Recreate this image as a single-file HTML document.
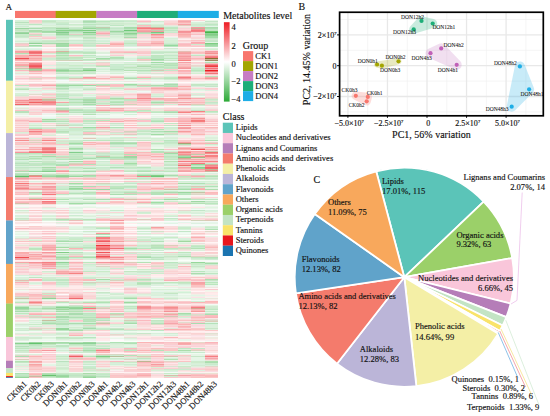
<!DOCTYPE html>
<html><head><meta charset="utf-8"><style>
html,body{margin:0;padding:0;background:#fff;width:550px;height:416px;overflow:hidden}
svg{display:block;font-family:"Liberation Serif",serif}
text{stroke:#111;stroke-width:0.15px}
</style></head><body>
<svg width="550" height="416" viewBox="0 0 550 416" fill="#111" font-family="Liberation Serif">
<rect width="550" height="416" fill="#fff"/>
<defs><filter id="hb" x="-1%" y="-1%" width="102%" height="102%"><feGaussianBlur stdDeviation="0.35 0.75"/></filter></defs>
<g shape-rendering="crispEdges" filter="url(#hb)">
<path fill="#d7f0dc" d="M15 20h14v1h-14zM191 22h14v1h-14zM42 23h14v1h-14zM56 25h13v1h-13zM124 26h13v1h-13zM164 26h14v1h-14zM96 38h14v1h-14zM96 40h14v1h-14zM69 41h14v1h-14zM69 42h14v1h-14zM56 48h13v1h-13zM124 58h13v1h-13zM164 59h14v1h-14zM164 62h14v1h-14zM56 63h13v1h-13zM151 63h13v1h-13zM124 65h13v1h-13zM191 67h14v1h-14zM42 68h14v1h-14zM69 76h14v1h-14zM191 86h14v1h-14zM83 87h13v1h-13zM191 89h14v1h-14zM191 95h14v1h-14zM151 105h13v1h-13zM191 109h14v1h-14zM83 113h13v1h-13zM164 114h14v1h-14zM69 132h14v1h-14zM29 138h13v1h-13zM96 138h14v1h-14zM110 145h14v1h-14zM110 151h14v1h-14zM96 163h14v1h-14zM15 166h14v1h-14zM151 168h13v1h-13zM56 169h13v1h-13zM137 169h14v1h-14zM151 173h13v1h-13zM124 182h13v1h-13zM124 188h13v1h-13zM205 210h13v1h-13zM191 213h14v1h-14zM15 215h14v1h-14zM15 216h14v1h-14zM164 220h14v1h-14zM83 226h13v1h-13zM83 228h13v1h-13zM178 238h13v1h-13zM56 239h13v1h-13zM178 239h13v1h-13zM151 240h13v1h-13zM69 245h14v1h-14zM69 250h14v1h-14zM83 252h13v1h-13zM178 253h13v1h-13zM56 255h13v1h-13zM83 266h13v1h-13zM96 268h14v1h-14zM164 268h14v1h-14zM205 271h13v1h-13zM15 275h14v1h-14zM29 275h13v1h-13zM15 277h14v1h-14zM96 280h14v1h-14zM124 282h13v1h-13zM29 283h13v1h-13zM124 283h13v1h-13zM178 284h13v1h-13zM124 285h13v1h-13zM178 289h13v1h-13zM151 292h13v1h-13zM151 295h13v1h-13zM164 295h14v1h-14zM15 314h14v1h-14zM29 322h13v1h-13zM69 322h14v1h-14zM205 324h13v1h-13zM56 327h13v1h-13zM151 333h13v1h-13zM164 335h14v1h-14zM110 347h14v1h-14zM15 349h14v1h-14zM56 355h13v1h-13zM124 357h13v1h-13zM110 359h14v1h-14zM137 359h14v1h-14zM110 363h14v1h-14zM191 364h14v1h-14zM15 365h14v1h-14zM205 365h13v1h-13z"/>
<path fill="#facdcd" d="M29 20h13v1h-13zM29 21h13v1h-13zM164 23h14v1h-14zM164 24h14v1h-14zM191 32h14v1h-14zM42 38h14v1h-14zM15 45h14v1h-14zM110 46h14v1h-14zM178 46h13v1h-13zM137 51h14v1h-14zM42 55h14v1h-14zM42 56h14v1h-14zM15 63h14v1h-14zM178 63h13v1h-13zM15 67h14v1h-14zM164 69h14v1h-14zM42 71h14v1h-14zM205 88h13v1h-13zM151 90h13v1h-13zM110 94h14v1h-14zM124 94h13v1h-13zM96 96h14v1h-14zM29 97h13v1h-13zM29 98h13v1h-13zM191 101h14v1h-14zM124 103h13v1h-13zM164 103h14v1h-14zM191 103h14v1h-14zM137 104h14v1h-14zM96 108h14v1h-14zM137 109h14v1h-14zM205 110h13v1h-13zM29 112h13v1h-13zM191 117h14v1h-14zM124 118h13v1h-13zM15 121h14v1h-14zM205 123h13v1h-13zM15 125h14v1h-14zM191 125h14v1h-14zM96 128h14v1h-14zM205 128h13v1h-13zM191 133h14v1h-14zM56 138h13v1h-13zM191 142h14v1h-14zM137 143h14v1h-14zM137 144h14v1h-14zM137 145h14v1h-14zM191 147h14v1h-14zM56 152h13v1h-13zM137 153h14v1h-14zM151 153h13v1h-13zM137 157h14v1h-14zM178 160h13v1h-13zM137 161h14v1h-14zM83 165h13v1h-13zM29 179h13v1h-13zM56 179h13v1h-13zM151 179h13v1h-13zM164 179h14v1h-14zM137 186h14v1h-14zM151 187h13v1h-13zM15 193h14v1h-14zM96 194h14v1h-14zM137 201h14v1h-14zM56 210h13v1h-13zM124 218h13v1h-13zM29 226h13v1h-13zM42 236h14v1h-14zM29 238h13v1h-13zM29 245h13v1h-13zM164 246h14v1h-14zM205 252h13v1h-13zM69 259h14v1h-14zM96 263h14v1h-14zM110 264h14v1h-14zM137 266h14v1h-14zM15 269h14v1h-14zM56 270h13v1h-13zM110 273h14v1h-14zM205 278h13v1h-13zM56 292h13v1h-13zM15 295h14v1h-14zM56 296h13v1h-13zM151 298h13v1h-13zM178 301h13v1h-13zM178 303h13v1h-13zM110 306h14v1h-14zM151 309h13v1h-13zM124 314h13v1h-13zM151 314h13v1h-13zM191 318h14v1h-14zM69 334h14v1h-14zM164 343h14v1h-14zM191 349h14v1h-14zM42 356h14v1h-14zM42 359h14v1h-14zM96 361h14v1h-14zM96 366h14v1h-14zM29 367h13v1h-13zM29 368h13v1h-13zM42 368h14v1h-14zM151 368h13v1h-13zM191 369h14v1h-14zM205 374h13v1h-13zM178 376h13v1h-13z"/>
<path fill="#c8ebcd" d="M42 20h14v1h-14zM124 21h13v1h-13zM56 23h13v1h-13zM15 24h14v1h-14zM205 25h13v1h-13zM42 29h14v1h-14zM164 32h14v1h-14zM15 34h14v1h-14zM42 42h14v1h-14zM69 43h14v1h-14zM151 53h13v1h-13zM69 59h14v1h-14zM110 64h14v1h-14zM110 66h14v1h-14zM110 67h14v1h-14zM110 68h14v1h-14zM191 68h14v1h-14zM191 69h14v1h-14zM191 71h14v1h-14zM137 84h14v1h-14zM56 87h13v1h-13zM69 95h14v1h-14zM83 97h13v1h-13zM69 101h14v1h-14zM151 101h13v1h-13zM69 104h14v1h-14zM69 111h14v1h-14zM137 111h14v1h-14zM124 112h13v1h-13zM205 112h13v1h-13zM29 127h13v1h-13zM69 128h14v1h-14zM56 129h13v1h-13zM69 129h14v1h-14zM137 130h14v1h-14zM137 133h14v1h-14zM137 134h14v1h-14zM69 141h14v1h-14zM164 141h14v1h-14zM124 144h13v1h-13zM83 152h13v1h-13zM110 153h14v1h-14zM164 154h14v1h-14zM29 157h13v1h-13zM42 157h14v1h-14zM83 157h13v1h-13zM96 158h14v1h-14zM164 158h14v1h-14zM29 159h13v1h-13zM15 162h14v1h-14zM205 163h13v1h-13zM42 165h14v1h-14zM96 165h14v1h-14zM110 165h14v1h-14zM96 167h14v1h-14zM124 168h13v1h-13zM83 170h13v1h-13zM151 174h13v1h-13zM205 183h13v1h-13zM69 184h14v1h-14zM56 188h13v1h-13zM164 191h14v1h-14zM83 194h13v1h-13zM69 198h14v1h-14zM56 201h13v1h-13zM110 210h14v1h-14zM178 227h13v1h-13zM205 227h13v1h-13zM69 238h14v1h-14zM83 238h13v1h-13zM137 240h14v1h-14zM56 243h13v1h-13zM83 245h13v1h-13zM137 245h14v1h-14zM124 247h13v1h-13zM191 247h14v1h-14zM56 250h13v1h-13zM178 254h13v1h-13zM137 259h14v1h-14zM151 271h13v1h-13zM110 279h14v1h-14zM56 284h13v1h-13zM56 310h13v1h-13zM83 310h13v1h-13zM205 311h13v1h-13zM178 315h13v1h-13zM56 318h13v1h-13zM42 321h14v1h-14zM151 321h13v1h-13zM83 324h13v1h-13zM96 328h14v1h-14zM56 338h13v1h-13zM29 346h13v1h-13zM96 346h14v1h-14zM83 347h13v1h-13zM178 352h13v1h-13zM191 352h14v1h-14zM110 358h14v1h-14zM83 364h13v1h-13zM205 364h13v1h-13zM83 366h13v1h-13zM83 367h13v1h-13zM164 369h14v1h-14zM178 369h13v1h-13zM96 375h14v1h-14z"/>
<path fill="#d2f0d7" d="M56 20h13v1h-13zM83 23h13v1h-13zM96 26h14v1h-14zM191 26h14v1h-14zM56 38h13v1h-13zM29 40h13v1h-13zM124 40h13v1h-13zM15 41h14v1h-14zM96 41h14v1h-14zM83 56h13v1h-13zM137 56h14v1h-14zM164 57h14v1h-14zM56 62h13v1h-13zM124 62h13v1h-13zM56 67h13v1h-13zM69 67h14v1h-14zM96 69h14v1h-14zM124 69h13v1h-13zM56 76h13v1h-13zM69 86h14v1h-14zM69 87h14v1h-14zM56 91h13v1h-13zM56 100h13v1h-13zM110 100h14v1h-14zM164 104h14v1h-14zM69 105h14v1h-14zM56 107h13v1h-13zM110 112h14v1h-14zM124 114h13v1h-13zM83 125h13v1h-13zM69 131h14v1h-14zM110 133h14v1h-14zM110 137h14v1h-14zM164 144h14v1h-14zM124 146h13v1h-13zM69 151h14v1h-14zM110 152h14v1h-14zM83 153h13v1h-13zM15 155h14v1h-14zM15 161h14v1h-14zM164 162h14v1h-14zM164 163h14v1h-14zM110 164h14v1h-14zM29 168h13v1h-13zM124 179h13v1h-13zM178 181h13v1h-13zM191 181h14v1h-14zM110 184h14v1h-14zM191 184h14v1h-14zM110 197h14v1h-14zM164 198h14v1h-14zM69 201h14v1h-14zM151 201h13v1h-13zM137 227h14v1h-14zM205 228h13v1h-13zM178 229h13v1h-13zM137 237h14v1h-14zM151 237h13v1h-13zM151 239h13v1h-13zM83 240h13v1h-13zM69 243h14v1h-14zM56 246h13v1h-13zM137 247h14v1h-14zM137 255h14v1h-14zM151 256h13v1h-13zM69 258h14v1h-14zM56 265h13v1h-13zM191 265h14v1h-14zM56 268h13v1h-13zM96 269h14v1h-14zM124 274h13v1h-13zM56 277h13v1h-13zM164 283h14v1h-14zM178 292h13v1h-13zM96 293h14v1h-14zM110 293h14v1h-14zM96 297h14v1h-14zM110 297h14v1h-14zM191 301h14v1h-14zM96 303h14v1h-14zM29 310h13v1h-13zM42 315h14v1h-14zM178 317h13v1h-13zM83 322h13v1h-13zM56 325h13v1h-13zM29 326h13v1h-13zM56 326h13v1h-13zM83 338h13v1h-13zM15 339h14v1h-14zM42 345h14v1h-14zM56 347h13v1h-13zM124 347h13v1h-13zM164 351h14v1h-14zM178 351h13v1h-13zM164 358h14v1h-14zM56 362h13v1h-13zM110 364h14v1h-14z"/>
<path fill="#e1f5e1" d="M69 20h14v1h-14zM29 25h13v1h-13zM42 26h14v1h-14zM110 38h14v1h-14zM15 40h14v1h-14zM205 42h13v1h-13zM15 48h14v1h-14zM124 49h13v1h-13zM83 50h13v1h-13zM15 72h14v1h-14zM124 76h13v1h-13zM124 79h13v1h-13zM110 83h14v1h-14zM124 83h13v1h-13zM205 83h13v1h-13zM29 89h13v1h-13zM110 89h14v1h-14zM83 94h13v1h-13zM56 116h13v1h-13zM137 123h14v1h-14zM29 124h13v1h-13zM69 137h14v1h-14zM124 139h13v1h-13zM205 139h13v1h-13zM205 145h13v1h-13zM83 169h13v1h-13zM205 182h13v1h-13zM205 188h13v1h-13zM164 190h14v1h-14zM205 207h13v1h-13zM191 211h14v1h-14zM110 213h14v1h-14zM178 213h13v1h-13zM83 215h13v1h-13zM69 216h14v1h-14zM69 228h14v1h-14zM69 233h14v1h-14zM56 234h13v1h-13zM15 237h14v1h-14zM137 243h14v1h-14zM151 249h13v1h-13zM191 249h14v1h-14zM137 258h14v1h-14zM191 268h14v1h-14zM124 269h13v1h-13zM205 269h13v1h-13zM137 270h14v1h-14zM205 272h13v1h-13zM96 275h14v1h-14zM83 276h13v1h-13zM56 286h13v1h-13zM178 291h13v1h-13zM137 295h14v1h-14zM191 298h14v1h-14zM42 299h14v1h-14zM124 299h13v1h-13zM124 305h13v1h-13zM205 305h13v1h-13zM205 310h13v1h-13zM110 320h14v1h-14zM110 325h14v1h-14zM124 325h13v1h-13zM15 326h14v1h-14zM69 326h14v1h-14zM96 327h14v1h-14zM124 327h13v1h-13zM42 338h14v1h-14zM69 339h14v1h-14zM124 345h13v1h-13zM124 363h13v1h-13zM56 366h13v1h-13zM15 367h14v1h-14zM96 368h14v1h-14zM56 370h13v1h-13zM56 371h13v1h-13zM56 372h13v1h-13z"/>
<path fill="#c3e6c8" d="M83 20h13v1h-13zM110 21h14v1h-14zM205 21h13v1h-13zM56 24h13v1h-13zM69 28h14v1h-14zM110 28h14v1h-14zM205 29h13v1h-13zM42 30h14v1h-14zM110 30h14v1h-14zM69 32h14v1h-14zM110 34h14v1h-14zM15 36h14v1h-14zM205 38h13v1h-13zM83 40h13v1h-13zM205 41h13v1h-13zM29 42h13v1h-13zM83 43h13v1h-13zM83 45h13v1h-13zM69 51h14v1h-14zM151 52h13v1h-13zM164 55h14v1h-14zM56 68h13v1h-13zM151 69h13v1h-13zM164 70h14v1h-14zM56 73h13v1h-13zM124 77h13v1h-13zM205 84h13v1h-13zM191 85h14v1h-14zM205 86h13v1h-13zM56 89h13v1h-13zM56 95h13v1h-13zM83 98h13v1h-13zM96 99h14v1h-14zM124 100h13v1h-13zM205 102h13v1h-13zM191 110h14v1h-14zM83 123h13v1h-13zM69 125h14v1h-14zM83 128h13v1h-13zM164 134h14v1h-14zM164 142h14v1h-14zM110 144h14v1h-14zM83 154h13v1h-13zM96 155h14v1h-14zM56 162h13v1h-13zM29 163h13v1h-13zM164 165h14v1h-14zM15 167h14v1h-14zM29 167h13v1h-13zM69 167h14v1h-14zM151 171h13v1h-13zM137 178h14v1h-14zM205 178h13v1h-13zM124 183h13v1h-13zM69 187h14v1h-14zM124 187h13v1h-13zM110 192h14v1h-14zM56 194h13v1h-13zM151 199h13v1h-13zM205 201h13v1h-13zM191 210h14v1h-14zM164 218h14v1h-14zM137 228h14v1h-14zM178 231h13v1h-13zM69 247h14v1h-14zM42 280h14v1h-14zM56 282h13v1h-13zM151 283h13v1h-13zM205 313h13v1h-13zM83 314h13v1h-13zM83 315h13v1h-13zM96 318h14v1h-14zM83 327h13v1h-13zM15 344h14v1h-14zM191 348h14v1h-14zM83 349h13v1h-13zM83 351h13v1h-13zM83 361h13v1h-13zM15 374h14v1h-14zM96 374h14v1h-14z"/>
<path fill="#dcf0dc" d="M96 20h14v1h-14zM69 21h14v1h-14zM69 22h14v1h-14zM124 22h13v1h-13zM205 22h13v1h-13zM96 25h14v1h-14zM124 25h13v1h-13zM15 27h14v1h-14zM110 35h14v1h-14zM69 37h14v1h-14zM110 37h14v1h-14zM56 39h13v1h-13zM83 39h13v1h-13zM205 48h13v1h-13zM83 49h13v1h-13zM96 52h14v1h-14zM96 53h14v1h-14zM164 53h14v1h-14zM110 60h14v1h-14zM69 63h14v1h-14zM124 63h13v1h-13zM69 64h14v1h-14zM83 64h13v1h-13zM96 71h14v1h-14zM124 72h13v1h-13zM164 76h14v1h-14zM56 83h13v1h-13zM151 84h13v1h-13zM124 87h13v1h-13zM56 90h13v1h-13zM69 90h14v1h-14zM83 90h13v1h-13zM69 93h14v1h-14zM191 93h14v1h-14zM83 95h13v1h-13zM151 95h13v1h-13zM69 96h14v1h-14zM191 108h14v1h-14zM69 114h14v1h-14zM151 130h13v1h-13zM137 132h14v1h-14zM96 135h14v1h-14zM124 135h13v1h-13zM151 135h13v1h-13zM137 137h14v1h-14zM164 137h14v1h-14zM205 137h13v1h-13zM205 138h13v1h-13zM96 139h14v1h-14zM110 139h14v1h-14zM151 139h13v1h-13zM110 141h14v1h-14zM164 146h14v1h-14zM110 149h14v1h-14zM29 155h13v1h-13zM42 160h14v1h-14zM29 162h13v1h-13zM96 162h14v1h-14zM42 166h14v1h-14zM151 167h13v1h-13zM69 169h14v1h-14zM151 169h13v1h-13zM69 170h14v1h-14zM29 174h13v1h-13zM191 174h14v1h-14zM137 182h14v1h-14zM178 182h13v1h-13zM96 185h14v1h-14zM110 185h14v1h-14zM178 185h13v1h-13zM205 187h13v1h-13zM110 190h14v1h-14zM69 191h14v1h-14zM178 191h13v1h-13zM56 197h13v1h-13zM56 202h13v1h-13zM178 211h13v1h-13zM205 211h13v1h-13zM191 212h14v1h-14zM96 213h14v1h-14zM42 215h14v1h-14zM191 215h14v1h-14zM83 216h13v1h-13zM96 217h14v1h-14zM42 220h14v1h-14zM56 222h13v1h-13zM178 226h13v1h-13zM69 229h14v1h-14zM83 229h13v1h-13zM56 236h13v1h-13zM137 236h14v1h-14zM83 239h13v1h-13zM83 243h13v1h-13zM178 243h13v1h-13zM137 244h14v1h-14zM124 250h13v1h-13zM137 250h14v1h-14zM191 250h14v1h-14zM56 253h13v1h-13zM164 253h14v1h-14zM178 257h13v1h-13zM164 258h14v1h-14zM83 259h13v1h-13zM178 262h13v1h-13zM96 267h14v1h-14zM83 269h13v1h-13zM96 272h14v1h-14zM124 272h13v1h-13zM124 273h13v1h-13zM56 275h13v1h-13zM15 278h14v1h-14zM56 278h13v1h-13zM151 280h13v1h-13zM29 282h13v1h-13zM151 284h13v1h-13zM83 285h13v1h-13zM137 285h14v1h-14zM164 285h14v1h-14zM42 292h14v1h-14zM151 293h13v1h-13zM137 294h14v1h-14zM151 294h13v1h-13zM96 295h14v1h-14zM110 296h14v1h-14zM164 297h14v1h-14zM178 298h13v1h-13zM15 299h14v1h-14zM96 299h14v1h-14zM15 301h14v1h-14zM69 301h14v1h-14zM29 306h13v1h-13zM29 307h13v1h-13zM42 318h14v1h-14zM42 319h14v1h-14zM124 319h13v1h-13zM205 325h13v1h-13zM205 326h13v1h-13zM205 327h13v1h-13zM69 328h14v1h-14zM42 329h14v1h-14zM205 329h13v1h-13zM110 330h14v1h-14zM15 333h14v1h-14zM29 334h13v1h-13zM42 334h14v1h-14zM83 334h13v1h-13zM42 337h14v1h-14zM124 338h13v1h-13zM56 339h13v1h-13zM124 344h13v1h-13zM110 345h14v1h-14zM69 346h14v1h-14zM110 346h14v1h-14zM96 347h14v1h-14zM178 349h13v1h-13zM15 354h14v1h-14zM29 354h13v1h-13zM164 354h14v1h-14zM83 355h13v1h-13zM96 359h14v1h-14zM83 363h13v1h-13zM15 364h14v1h-14zM178 364h13v1h-13zM124 365h13v1h-13zM191 366h14v1h-14zM83 371h13v1h-13zM96 371h14v1h-14z"/>
<path fill="#cdebd2" d="M110 20h14v1h-14zM137 24h14v1h-14zM83 25h13v1h-13zM191 25h14v1h-14zM15 26h14v1h-14zM110 27h14v1h-14zM110 29h14v1h-14zM56 36h13v1h-13zM69 40h14v1h-14zM83 41h13v1h-13zM124 42h13v1h-13zM164 43h14v1h-14zM124 44h13v1h-13zM124 45h13v1h-13zM83 51h13v1h-13zM164 51h14v1h-14zM56 54h13v1h-13zM96 56h14v1h-14zM137 57h14v1h-14zM42 58h14v1h-14zM110 59h14v1h-14zM83 65h13v1h-13zM110 65h14v1h-14zM69 69h14v1h-14zM110 70h14v1h-14zM83 72h13v1h-13zM164 83h14v1h-14zM56 93h13v1h-13zM151 96h13v1h-13zM56 97h13v1h-13zM69 98h14v1h-14zM56 99h13v1h-13zM69 100h14v1h-14zM96 100h14v1h-14zM56 103h13v1h-13zM110 103h14v1h-14zM205 103h13v1h-13zM83 105h13v1h-13zM83 118h13v1h-13zM151 118h13v1h-13zM69 124h14v1h-14zM110 125h14v1h-14zM56 127h13v1h-13zM164 127h14v1h-14zM42 128h14v1h-14zM56 130h13v1h-13zM151 132h13v1h-13zM110 146h14v1h-14zM69 147h14v1h-14zM96 154h14v1h-14zM15 156h14v1h-14zM42 159h14v1h-14zM96 159h14v1h-14zM96 161h14v1h-14zM124 161h13v1h-13zM56 163h13v1h-13zM191 166h14v1h-14zM83 167h13v1h-13zM69 168h14v1h-14zM96 168h14v1h-14zM110 168h14v1h-14zM137 168h14v1h-14zM29 170h13v1h-13zM137 177h14v1h-14zM56 186h13v1h-13zM56 187h13v1h-13zM178 187h13v1h-13zM110 189h14v1h-14zM151 191h13v1h-13zM69 192h14v1h-14zM137 212h14v1h-14zM69 215h14v1h-14zM15 219h14v1h-14zM42 219h14v1h-14zM137 231h14v1h-14zM69 237h14v1h-14zM83 246h13v1h-13zM137 246h14v1h-14zM164 249h14v1h-14zM151 250h13v1h-13zM137 252h14v1h-14zM124 253h13v1h-13zM151 258h13v1h-13zM191 258h14v1h-14zM205 259h13v1h-13zM164 263h14v1h-14zM83 264h13v1h-13zM205 264h13v1h-13zM110 268h14v1h-14zM137 272h14v1h-14zM83 277h13v1h-13zM83 278h13v1h-13zM15 279h14v1h-14zM56 283h13v1h-13zM96 298h14v1h-14zM110 298h14v1h-14zM96 306h14v1h-14zM29 315h13v1h-13zM96 319h14v1h-14zM56 320h13v1h-13zM69 324h14v1h-14zM83 329h13v1h-13zM15 330h14v1h-14zM124 330h13v1h-13zM124 333h13v1h-13zM15 342h14v1h-14zM110 343h14v1h-14zM15 347h14v1h-14zM29 347h13v1h-13zM110 355h14v1h-14zM124 364h13v1h-13z"/>
<path fill="#d2ebd2" d="M124 20h13v1h-13zM151 21h13v1h-13zM96 23h14v1h-14zM124 23h13v1h-13zM205 23h13v1h-13zM110 24h14v1h-14zM29 27h13v1h-13zM164 29h14v1h-14zM15 31h14v1h-14zM164 31h14v1h-14zM69 33h14v1h-14zM69 36h14v1h-14zM83 36h13v1h-13zM205 39h13v1h-13zM124 41h13v1h-13zM83 42h13v1h-13zM164 48h14v1h-14zM56 49h13v1h-13zM56 50h13v1h-13zM42 53h14v1h-14zM42 59h14v1h-14zM137 62h14v1h-14zM56 64h13v1h-13zM56 65h13v1h-13zM69 66h14v1h-14zM124 66h13v1h-13zM137 67h14v1h-14zM151 68h13v1h-13zM151 71h13v1h-13zM56 72h13v1h-13zM137 73h14v1h-14zM164 79h14v1h-14zM205 85h13v1h-13zM83 88h13v1h-13zM69 94h14v1h-14zM15 95h14v1h-14zM110 97h14v1h-14zM205 100h13v1h-13zM96 102h14v1h-14zM96 104h14v1h-14zM191 105h14v1h-14zM151 119h13v1h-13zM164 128h14v1h-14zM69 134h14v1h-14zM110 138h14v1h-14zM56 140h13v1h-13zM124 140h13v1h-13zM56 142h13v1h-13zM42 158h14v1h-14zM15 169h14v1h-14zM96 169h14v1h-14zM164 170h14v1h-14zM164 174h14v1h-14zM205 177h13v1h-13zM137 179h14v1h-14zM178 179h13v1h-13zM205 179h13v1h-13zM96 184h14v1h-14zM83 198h13v1h-13zM69 202h14v1h-14zM205 202h13v1h-13zM69 204h14v1h-14zM205 204h13v1h-13zM15 210h14v1h-14zM164 216h14v1h-14zM42 218h14v1h-14zM69 218h14v1h-14zM83 227h13v1h-13zM83 237h13v1h-13zM69 240h14v1h-14zM151 244h13v1h-13zM69 246h14v1h-14zM69 253h14v1h-14zM151 254h13v1h-13zM178 255h13v1h-13zM164 257h14v1h-14zM164 264h14v1h-14zM56 267h13v1h-13zM151 269h13v1h-13zM42 271h14v1h-14zM191 274h14v1h-14zM42 277h14v1h-14zM110 277h14v1h-14zM42 278h14v1h-14zM151 279h13v1h-13zM110 294h14v1h-14zM124 301h13v1h-13zM205 306h13v1h-13zM205 307h13v1h-13zM42 311h14v1h-14zM124 311h13v1h-13zM69 312h14v1h-14zM56 315h13v1h-13zM151 318h13v1h-13zM15 324h14v1h-14zM83 326h13v1h-13zM69 327h14v1h-14zM15 328h14v1h-14zM164 333h14v1h-14zM56 334h13v1h-13zM29 337h13v1h-13zM15 338h14v1h-14zM29 338h13v1h-13zM96 342h14v1h-14zM15 345h14v1h-14zM96 345h14v1h-14zM56 350h13v1h-13zM15 351h14v1h-14zM15 352h14v1h-14zM124 358h13v1h-13zM56 359h13v1h-13zM110 362h14v1h-14zM56 365h13v1h-13zM191 365h14v1h-14zM56 367h13v1h-13zM69 377h14v1h-14zM96 377h14v1h-14z"/>
<path fill="#fadcdc" d="M137 20h14v1h-14zM178 29h13v1h-13zM164 34h14v1h-14zM164 35h14v1h-14zM96 36h14v1h-14zM137 36h14v1h-14zM151 39h13v1h-13zM178 41h13v1h-13zM137 42h14v1h-14zM96 44h14v1h-14zM191 49h14v1h-14zM205 50h13v1h-13zM191 60h14v1h-14zM164 72h14v1h-14zM15 76h14v1h-14zM191 76h14v1h-14zM69 79h14v1h-14zM137 79h14v1h-14zM42 86h14v1h-14zM137 87h14v1h-14zM151 91h13v1h-13zM178 92h13v1h-13zM96 93h14v1h-14zM164 93h14v1h-14zM96 95h14v1h-14zM124 95h13v1h-13zM205 95h13v1h-13zM42 96h14v1h-14zM178 101h13v1h-13zM124 105h13v1h-13zM124 107h13v1h-13zM137 107h14v1h-14zM42 108h14v1h-14zM151 108h13v1h-13zM178 116h13v1h-13zM15 118h14v1h-14zM69 119h14v1h-14zM124 119h13v1h-13zM15 122h14v1h-14zM69 122h14v1h-14zM178 124h13v1h-13zM15 128h14v1h-14zM124 128h13v1h-13zM205 129h13v1h-13zM205 132h13v1h-13zM178 133h13v1h-13zM178 134h13v1h-13zM191 135h14v1h-14zM15 137h14v1h-14zM42 137h14v1h-14zM191 138h14v1h-14zM191 139h14v1h-14zM29 141h13v1h-13zM42 145h14v1h-14zM42 146h14v1h-14zM83 146h13v1h-13zM96 146h14v1h-14zM15 147h14v1h-14zM137 147h14v1h-14zM96 148h14v1h-14zM96 149h14v1h-14zM29 150h13v1h-13zM96 151h14v1h-14zM124 151h13v1h-13zM151 158h13v1h-13zM137 159h14v1h-14zM110 162h14v1h-14zM151 165h13v1h-13zM110 177h14v1h-14zM124 177h13v1h-13zM56 181h13v1h-13zM83 184h13v1h-13zM42 185h14v1h-14zM83 185h13v1h-13zM151 186h13v1h-13zM15 190h14v1h-14zM15 191h14v1h-14zM137 191h14v1h-14zM151 197h13v1h-13zM191 197h14v1h-14zM137 198h14v1h-14zM151 198h13v1h-13zM29 204h13v1h-13zM42 204h14v1h-14zM164 204h14v1h-14zM124 210h13v1h-13zM137 210h14v1h-14zM151 210h13v1h-13zM151 211h13v1h-13zM29 212h13v1h-13zM56 213h13v1h-13zM205 213h13v1h-13zM151 215h13v1h-13zM151 216h13v1h-13zM191 219h14v1h-14zM29 222h13v1h-13zM15 226h14v1h-14zM164 226h14v1h-14zM56 227h13v1h-13zM164 227h14v1h-14zM15 229h14v1h-14zM42 229h14v1h-14zM151 229h13v1h-13zM164 229h14v1h-14zM191 229h14v1h-14zM29 231h13v1h-13zM56 231h13v1h-13zM164 231h14v1h-14zM191 231h14v1h-14zM151 233h13v1h-13zM42 234h14v1h-14zM191 234h14v1h-14zM110 236h14v1h-14zM42 237h14v1h-14zM205 238h13v1h-13zM15 239h14v1h-14zM124 239h13v1h-13zM205 239h13v1h-13zM205 241h13v1h-13zM15 243h14v1h-14zM29 243h13v1h-13zM42 243h14v1h-14zM205 250h13v1h-13zM191 253h14v1h-14zM124 258h13v1h-13zM69 264h14v1h-14zM178 264h13v1h-13zM178 267h13v1h-13zM29 268h13v1h-13zM178 269h13v1h-13zM164 270h14v1h-14zM178 271h13v1h-13zM83 272h13v1h-13zM164 272h14v1h-14zM178 272h13v1h-13zM29 273h13v1h-13zM137 277h14v1h-14zM69 281h14v1h-14zM191 281h14v1h-14zM110 285h14v1h-14zM56 289h13v1h-13zM69 289h14v1h-14zM124 291h13v1h-13zM29 292h13v1h-13zM29 293h13v1h-13zM56 293h13v1h-13zM151 299h13v1h-13zM42 302h14v1h-14zM191 303h14v1h-14zM83 305h13v1h-13zM164 305h14v1h-14zM178 305h13v1h-13zM151 310h13v1h-13zM178 311h13v1h-13zM124 312h13v1h-13zM137 312h14v1h-14zM137 318h14v1h-14zM164 319h14v1h-14zM178 319h13v1h-13zM15 320h14v1h-14zM137 321h14v1h-14zM110 322h14v1h-14zM137 325h14v1h-14zM137 326h14v1h-14zM151 327h13v1h-13zM137 328h14v1h-14zM151 337h13v1h-13zM151 338h13v1h-13zM191 338h14v1h-14zM205 346h13v1h-13zM110 348h14v1h-14zM42 349h14v1h-14zM137 351h14v1h-14zM205 354h13v1h-13zM151 357h13v1h-13zM178 357h13v1h-13zM42 361h14v1h-14zM42 362h14v1h-14zM96 362h14v1h-14zM29 363h13v1h-13zM69 364h14v1h-14zM110 368h14v1h-14zM137 368h14v1h-14zM191 371h14v1h-14zM124 373h13v1h-13z"/>
<path fill="#fff0f0" d="M151 20h13v1h-13zM178 39h13v1h-13zM42 50h14v1h-14zM29 61h13v1h-13zM42 61h14v1h-14zM96 74h14v1h-14zM15 80h14v1h-14zM96 80h14v1h-14zM110 91h14v1h-14zM96 92h14v1h-14zM164 97h14v1h-14zM205 106h13v1h-13zM178 115h13v1h-13zM205 115h13v1h-13zM137 117h14v1h-14zM164 122h14v1h-14zM124 124h13v1h-13zM124 126h13v1h-13zM151 126h13v1h-13zM191 126h14v1h-14zM205 126h13v1h-13zM15 136h14v1h-14zM56 150h13v1h-13zM96 172h14v1h-14zM178 172h13v1h-13zM15 195h14v1h-14zM137 195h14v1h-14zM15 196h14v1h-14zM96 196h14v1h-14zM151 196h13v1h-13zM164 206h14v1h-14zM164 208h14v1h-14zM151 209h13v1h-13zM178 209h13v1h-13zM29 214h13v1h-13zM137 214h14v1h-14zM151 214h13v1h-13zM178 214h13v1h-13zM205 214h13v1h-13zM29 217h13v1h-13zM69 221h14v1h-14zM29 223h13v1h-13zM69 224h14v1h-14zM124 226h13v1h-13zM151 230h13v1h-13zM29 232h13v1h-13zM124 232h13v1h-13zM15 242h14v1h-14zM124 242h13v1h-13zM164 242h14v1h-14zM15 251h14v1h-14zM42 251h14v1h-14zM15 260h14v1h-14zM69 260h14v1h-14zM96 260h14v1h-14zM42 270h14v1h-14zM110 270h14v1h-14zM178 274h13v1h-13zM151 276h13v1h-13zM15 288h14v1h-14zM29 288h13v1h-13zM137 288h14v1h-14zM83 290h13v1h-13zM137 290h14v1h-14zM110 291h14v1h-14zM56 300h13v1h-13zM137 300h14v1h-14zM164 300h14v1h-14zM42 304h14v1h-14zM69 304h14v1h-14zM110 304h14v1h-14zM178 304h13v1h-13zM15 319h14v1h-14zM42 331h14v1h-14zM83 331h13v1h-13zM96 331h14v1h-14zM164 331h14v1h-14zM178 331h13v1h-13zM191 331h14v1h-14zM205 331h13v1h-13zM205 332h13v1h-13zM96 336h14v1h-14zM178 336h13v1h-13zM164 339h14v1h-14zM191 340h14v1h-14zM42 372h14v1h-14zM124 372h13v1h-13zM191 372h14v1h-14z"/>
<path fill="#fae1e6" d="M164 20h14v1h-14zM191 36h14v1h-14zM110 50h14v1h-14zM137 54h14v1h-14zM124 97h13v1h-13zM29 108h13v1h-13zM69 116h14v1h-14zM205 130h13v1h-13zM15 141h14v1h-14zM56 182h13v1h-13zM151 182h13v1h-13zM137 185h14v1h-14zM15 208h14v1h-14zM56 208h13v1h-13zM29 236h13v1h-13zM205 237h13v1h-13zM110 253h14v1h-14zM69 267h14v1h-14zM164 274h14v1h-14zM110 289h14v1h-14zM191 297h14v1h-14zM15 318h14v1h-14zM137 319h14v1h-14zM164 327h14v1h-14zM191 335h14v1h-14zM164 338h14v1h-14zM151 339h13v1h-13zM164 347h14v1h-14zM205 347h13v1h-13zM110 371h14v1h-14z"/>
<path fill="#fab9b9" d="M178 20h13v1h-13zM178 33h13v1h-13zM178 36h13v1h-13zM178 66h13v1h-13zM42 69h14v1h-14zM191 78h14v1h-14zM137 99h14v1h-14zM164 99h14v1h-14zM191 102h14v1h-14zM15 103h14v1h-14zM205 127h13v1h-13zM42 130h14v1h-14zM42 138h14v1h-14zM96 143h14v1h-14zM124 152h13v1h-13zM137 152h14v1h-14zM191 152h14v1h-14zM83 163h13v1h-13zM124 176h13v1h-13zM164 178h14v1h-14zM15 186h14v1h-14zM29 188h13v1h-13zM137 189h14v1h-14zM205 192h13v1h-13zM164 194h14v1h-14zM96 219h14v1h-14zM110 237h14v1h-14zM205 247h13v1h-13zM178 266h13v1h-13zM69 271h14v1h-14zM83 280h13v1h-13zM110 282h14v1h-14zM205 301h13v1h-13zM191 309h14v1h-14zM191 310h14v1h-14zM96 314h14v1h-14zM151 316h13v1h-13zM42 317h14v1h-14zM191 317h14v1h-14zM191 320h14v1h-14zM164 337h14v1h-14zM205 355h13v1h-13zM151 356h13v1h-13zM151 366h13v1h-13zM137 374h14v1h-14zM205 375h13v1h-13zM205 376h13v1h-13z"/>
<path fill="#fad7d7" d="M191 20h14v1h-14zM164 21h14v1h-14zM164 22h14v1h-14zM29 33h13v1h-13zM164 33h14v1h-14zM137 35h14v1h-14zM191 37h14v1h-14zM191 38h14v1h-14zM42 46h14v1h-14zM69 46h14v1h-14zM137 55h14v1h-14zM29 72h13v1h-13zM164 73h14v1h-14zM29 76h13v1h-13zM96 76h14v1h-14zM137 76h14v1h-14zM191 77h14v1h-14zM96 79h14v1h-14zM110 79h14v1h-14zM191 79h14v1h-14zM178 85h13v1h-13zM191 88h14v1h-14zM96 89h14v1h-14zM42 93h14v1h-14zM164 94h14v1h-14zM110 95h14v1h-14zM15 98h14v1h-14zM178 103h13v1h-13zM164 108h14v1h-14zM29 109h13v1h-13zM42 109h14v1h-14zM164 109h14v1h-14zM29 113h13v1h-13zM29 118h13v1h-13zM69 118h14v1h-14zM29 119h13v1h-13zM42 123h14v1h-14zM151 128h13v1h-13zM124 130h13v1h-13zM96 132h14v1h-14zM124 133h13v1h-13zM205 134h13v1h-13zM29 139h13v1h-13zM15 146h14v1h-14zM124 148h13v1h-13zM56 151h13v1h-13zM151 155h13v1h-13zM137 163h14v1h-14zM56 166h13v1h-13zM110 174h14v1h-14zM124 174h13v1h-13zM42 179h14v1h-14zM42 181h14v1h-14zM15 182h14v1h-14zM164 184h14v1h-14zM96 190h14v1h-14zM15 197h14v1h-14zM205 197h13v1h-13zM124 202h13v1h-13zM164 202h14v1h-14zM124 203h13v1h-13zM42 210h14v1h-14zM110 212h14v1h-14zM29 215h13v1h-13zM29 218h13v1h-13zM178 218h13v1h-13zM191 218h14v1h-14zM205 218h13v1h-13zM124 220h13v1h-13zM69 222h14v1h-14zM29 227h13v1h-13zM42 227h14v1h-14zM124 227h13v1h-13zM29 229h13v1h-13zM83 241h13v1h-13zM110 243h14v1h-14zM15 248h14v1h-14zM205 248h13v1h-13zM83 250h13v1h-13zM96 251h14v1h-14zM29 253h13v1h-13zM42 254h14v1h-14zM191 254h14v1h-14zM42 258h14v1h-14zM151 264h13v1h-13zM69 265h14v1h-14zM205 266h13v1h-13zM110 267h14v1h-14zM205 267h13v1h-13zM15 268h14v1h-14zM29 272h13v1h-13zM42 273h14v1h-14zM164 277h14v1h-14zM178 278h13v1h-13zM15 283h14v1h-14zM69 283h14v1h-14zM110 283h14v1h-14zM83 289h13v1h-13zM69 293h14v1h-14zM83 295h13v1h-13zM83 297h13v1h-13zM137 297h14v1h-14zM29 299h13v1h-13zM69 299h14v1h-14zM151 301h13v1h-13zM151 302h13v1h-13zM110 303h14v1h-14zM137 303h14v1h-14zM191 305h14v1h-14zM110 308h14v1h-14zM178 309h13v1h-13zM124 315h13v1h-13zM164 318h14v1h-14zM164 325h14v1h-14zM178 328h13v1h-13zM191 330h14v1h-14zM83 333h13v1h-13zM178 333h13v1h-13zM191 334h14v1h-14zM178 338h13v1h-13zM137 343h14v1h-14zM110 349h14v1h-14zM110 351h14v1h-14zM124 352h13v1h-13zM124 354h13v1h-13zM29 355h13v1h-13zM151 355h13v1h-13zM83 357h13v1h-13zM42 358h14v1h-14zM178 358h13v1h-13zM29 359h13v1h-13zM178 359h13v1h-13zM164 364h14v1h-14zM42 367h14v1h-14zM205 367h13v1h-13zM42 369h14v1h-14zM29 370h13v1h-13zM69 370h14v1h-14zM42 371h14v1h-14zM69 371h14v1h-14zM151 375h13v1h-13zM137 377h14v1h-14z"/>
<path fill="#e6f5e6" d="M205 20h13v1h-13zM137 23h14v1h-14zM151 23h13v1h-13zM69 26h14v1h-14zM110 26h14v1h-14zM42 33h14v1h-14zM15 38h14v1h-14zM69 39h14v1h-14zM96 39h14v1h-14zM110 39h14v1h-14zM110 40h14v1h-14zM15 42h14v1h-14zM29 44h13v1h-13zM151 50h13v1h-13zM164 50h14v1h-14zM83 54h13v1h-13zM151 54h13v1h-13zM124 57h13v1h-13zM83 58h13v1h-13zM205 61h13v1h-13zM110 63h14v1h-14zM96 67h14v1h-14zM96 70h14v1h-14zM164 74h14v1h-14zM69 81h14v1h-14zM110 81h14v1h-14zM164 81h14v1h-14zM137 83h14v1h-14zM191 83h14v1h-14zM83 86h13v1h-13zM69 89h14v1h-14zM15 90h14v1h-14zM191 90h14v1h-14zM29 91h13v1h-13zM69 91h14v1h-14zM15 107h14v1h-14zM69 107h14v1h-14zM191 107h14v1h-14zM83 108h13v1h-13zM15 113h14v1h-14zM69 113h14v1h-14zM110 113h14v1h-14zM164 113h14v1h-14zM15 114h14v1h-14zM151 114h13v1h-13zM83 116h13v1h-13zM151 116h13v1h-13zM83 117h13v1h-13zM137 124h14v1h-14zM29 126h13v1h-13zM96 130h14v1h-14zM56 135h13v1h-13zM83 135h13v1h-13zM110 135h14v1h-14zM137 135h14v1h-14zM178 135h13v1h-13zM205 135h13v1h-13zM69 136h14v1h-14zM205 136h13v1h-13zM56 137h13v1h-13zM96 137h14v1h-14zM56 139h13v1h-13zM137 139h14v1h-14zM151 145h13v1h-13zM56 146h13v1h-13zM151 146h13v1h-13zM164 150h14v1h-14zM29 160h13v1h-13zM164 160h14v1h-14zM96 166h14v1h-14zM15 172h14v1h-14zM69 173h14v1h-14zM83 173h13v1h-13zM124 173h13v1h-13zM124 184h13v1h-13zM69 185h14v1h-14zM29 190h13v1h-13zM29 191h13v1h-13zM205 198h13v1h-13zM69 200h14v1h-14zM164 200h14v1h-14zM15 207h14v1h-14zM83 207h13v1h-13zM151 207h13v1h-13zM69 208h14v1h-14zM191 208h14v1h-14zM15 211h14v1h-14zM69 211h14v1h-14zM15 217h14v1h-14zM83 223h13v1h-13zM137 223h14v1h-14zM205 223h13v1h-13zM69 226h14v1h-14zM137 226h14v1h-14zM191 226h14v1h-14zM15 234h14v1h-14zM151 234h13v1h-13zM69 236h14v1h-14zM205 236h13v1h-13zM29 239h13v1h-13zM151 242h13v1h-13zM178 242h13v1h-13zM151 243h13v1h-13zM29 250h13v1h-13zM124 268h13v1h-13zM191 269h14v1h-14zM205 270h13v1h-13zM83 275h13v1h-13zM110 275h14v1h-14zM29 276h13v1h-13zM96 276h14v1h-14zM110 276h14v1h-14zM137 276h14v1h-14zM96 278h14v1h-14zM83 281h13v1h-13zM29 284h13v1h-13zM151 287h13v1h-13zM164 287h14v1h-14zM178 288h13v1h-13zM96 289h14v1h-14zM151 290h13v1h-13zM164 291h14v1h-14zM178 293h13v1h-13zM124 294h13v1h-13zM110 295h14v1h-14zM178 295h13v1h-13zM96 296h14v1h-14zM151 296h13v1h-13zM164 296h14v1h-14zM178 297h13v1h-13zM191 299h14v1h-14zM56 303h13v1h-13zM42 310h14v1h-14zM56 312h13v1h-13zM205 312h13v1h-13zM29 321h13v1h-13zM15 323h14v1h-14zM29 323h13v1h-13zM29 325h13v1h-13zM124 332h13v1h-13zM151 334h13v1h-13zM56 335h13v1h-13zM56 336h13v1h-13zM69 336h14v1h-14zM56 340h13v1h-13zM191 354h14v1h-14zM191 355h14v1h-14zM110 357h14v1h-14zM164 357h14v1h-14zM191 357h14v1h-14zM191 358h14v1h-14zM191 359h14v1h-14zM15 360h14v1h-14zM56 360h13v1h-13zM15 363h14v1h-14zM42 364h14v1h-14zM110 365h14v1h-14zM178 365h13v1h-13z"/>
<path fill="#d7f0d7" d="M15 21h14v1h-14zM56 21h13v1h-13zM110 22h14v1h-14zM15 23h14v1h-14zM191 23h14v1h-14zM151 24h13v1h-13zM42 25h14v1h-14zM69 25h14v1h-14zM56 26h13v1h-13zM42 34h14v1h-14zM110 36h14v1h-14zM164 38h14v1h-14zM164 40h14v1h-14zM164 41h14v1h-14zM164 42h14v1h-14zM15 49h14v1h-14zM164 54h14v1h-14zM110 56h14v1h-14zM124 60h13v1h-13zM69 62h14v1h-14zM83 62h13v1h-13zM56 66h13v1h-13zM83 66h13v1h-13zM110 71h14v1h-14zM69 72h14v1h-14zM110 73h14v1h-14zM124 86h13v1h-13zM110 87h14v1h-14zM29 88h13v1h-13zM15 93h14v1h-14zM15 94h14v1h-14zM151 94h13v1h-13zM56 118h13v1h-13zM83 122h13v1h-13zM56 128h13v1h-13zM110 128h14v1h-14zM164 129h14v1h-14zM83 130h13v1h-13zM15 132h14v1h-14zM56 133h13v1h-13zM69 133h14v1h-14zM151 133h13v1h-13zM42 135h14v1h-14zM124 138h13v1h-13zM137 138h14v1h-14zM164 138h14v1h-14zM151 142h13v1h-13zM151 144h13v1h-13zM164 145h14v1h-14zM69 146h14v1h-14zM110 155h14v1h-14zM83 156h13v1h-13zM83 159h13v1h-13zM69 162h14v1h-14zM124 166h13v1h-13zM29 169h13v1h-13zM164 169h14v1h-14zM29 173h13v1h-13zM137 173h14v1h-14zM191 179h14v1h-14zM205 181h13v1h-13zM124 185h13v1h-13zM205 185h13v1h-13zM151 190h13v1h-13zM83 191h13v1h-13zM191 191h14v1h-14zM69 194h14v1h-14zM83 197h13v1h-13zM83 201h13v1h-13zM178 201h13v1h-13zM56 203h13v1h-13zM151 204h13v1h-13zM69 212h14v1h-14zM178 212h13v1h-13zM164 215h14v1h-14zM42 216h14v1h-14zM164 219h14v1h-14zM137 229h14v1h-14zM56 233h13v1h-13zM137 233h14v1h-14zM56 237h13v1h-13zM69 244h14v1h-14zM83 244h13v1h-13zM29 247h13v1h-13zM83 253h13v1h-13zM83 254h13v1h-13zM164 255h14v1h-14zM83 258h13v1h-13zM164 259h14v1h-14zM191 259h14v1h-14zM83 265h13v1h-13zM164 266h14v1h-14zM124 267h13v1h-13zM191 267h14v1h-14zM137 274h14v1h-14zM56 281h13v1h-13zM96 281h14v1h-14zM124 284h13v1h-13zM151 289h13v1h-13zM164 289h14v1h-14zM164 292h14v1h-14zM124 296h13v1h-13zM83 301h13v1h-13zM110 316h14v1h-14zM69 319h14v1h-14zM29 320h13v1h-13zM110 324h14v1h-14zM15 329h14v1h-14zM29 330h13v1h-13zM137 330h14v1h-14zM29 333h13v1h-13zM124 334h13v1h-13zM110 344h14v1h-14zM83 346h13v1h-13zM42 347h14v1h-14zM56 357h13v1h-13zM56 363h13v1h-13zM191 363h14v1h-14zM56 364h13v1h-13zM151 367h13v1h-13zM151 370h13v1h-13zM164 370h14v1h-14z"/>
<path fill="#c3e6c3" d="M42 21h14v1h-14zM96 24h14v1h-14zM42 27h14v1h-14zM15 30h14v1h-14zM29 32h13v1h-13zM56 40h13v1h-13zM96 43h14v1h-14zM164 52h14v1h-14zM191 55h14v1h-14zM69 58h14v1h-14zM137 65h14v1h-14zM164 68h14v1h-14zM164 77h14v1h-14zM69 84h14v1h-14zM191 84h14v1h-14zM83 89h13v1h-13zM96 103h14v1h-14zM96 112h14v1h-14zM164 123h14v1h-14zM164 125h14v1h-14zM137 131h14v1h-14zM69 142h14v1h-14zM15 157h14v1h-14zM69 157h14v1h-14zM164 157h14v1h-14zM69 158h14v1h-14zM164 159h14v1h-14zM29 164h13v1h-13zM124 171h13v1h-13zM42 174h14v1h-14zM205 175h13v1h-13zM69 219h14v1h-14zM56 249h13v1h-13zM83 256h13v1h-13zM83 271h13v1h-13zM124 271h13v1h-13zM164 293h14v1h-14zM124 297h13v1h-13zM124 308h13v1h-13zM151 320h13v1h-13zM42 344h14v1h-14zM15 350h14v1h-14zM56 356h13v1h-13zM15 362h14v1h-14z"/>
<path fill="#aadcaf" d="M83 21h13v1h-13zM205 27h13v1h-13zM29 28h13v1h-13zM96 28h14v1h-14zM124 28h13v1h-13zM56 31h13v1h-13zM42 32h14v1h-14zM124 37h13v1h-13zM42 43h14v1h-14zM83 68h13v1h-13zM56 69h13v1h-13zM164 84h14v1h-14zM151 85h13v1h-13zM83 100h13v1h-13zM164 112h14v1h-14zM110 143h14v1h-14zM83 158h13v1h-13zM56 165h13v1h-13zM83 171h13v1h-13zM42 175h14v1h-14zM164 175h14v1h-14zM69 186h14v1h-14zM164 192h14v1h-14zM110 194h14v1h-14zM96 199h14v1h-14zM83 203h13v1h-13zM69 241h14v1h-14zM178 256h13v1h-13zM83 257h13v1h-13zM191 273h14v1h-14zM15 311h14v1h-14zM69 313h14v1h-14zM69 314h14v1h-14zM205 314h13v1h-13zM56 316h13v1h-13zM42 323h14v1h-14zM69 323h14v1h-14zM191 323h14v1h-14zM15 356h14v1h-14zM205 362h13v1h-13zM42 374h14v1h-14z"/>
<path fill="#b9e6be" d="M96 21h14v1h-14zM83 24h13v1h-13zM56 29h13v1h-13zM96 29h14v1h-14zM137 33h14v1h-14zM56 35h13v1h-13zM164 44h14v1h-14zM164 46h14v1h-14zM83 52h13v1h-13zM83 59h13v1h-13zM96 66h14v1h-14zM151 67h13v1h-13zM191 70h14v1h-14zM164 78h14v1h-14zM56 84h13v1h-13zM110 101h14v1h-14zM124 111h13v1h-13zM205 111h13v1h-13zM96 120h14v1h-14zM29 128h13v1h-13zM164 140h14v1h-14zM151 151h13v1h-13zM164 156h14v1h-14zM56 159h13v1h-13zM29 161h13v1h-13zM42 163h14v1h-14zM42 164h14v1h-14zM124 164h13v1h-13zM137 167h14v1h-14zM69 175h14v1h-14zM124 186h13v1h-13zM178 194h13v1h-13zM205 203h13v1h-13zM96 228h14v1h-14zM96 236h14v1h-14zM83 247h13v1h-13zM29 248h13v1h-13zM137 248h14v1h-14zM151 248h13v1h-13zM69 252h14v1h-14zM56 256h13v1h-13zM164 262h14v1h-14zM56 264h13v1h-13zM191 271h14v1h-14zM137 282h14v1h-14zM205 282h13v1h-13zM137 284h14v1h-14zM205 284h13v1h-13zM56 302h13v1h-13zM69 306h14v1h-14zM83 313h13v1h-13zM178 314h13v1h-13zM83 320h13v1h-13zM83 337h13v1h-13zM124 342h13v1h-13zM83 344h13v1h-13zM83 348h13v1h-13zM124 350h13v1h-13zM56 374h13v1h-13z"/>
<path fill="#fabec3" d="M137 21h14v1h-14zM191 34h14v1h-14zM137 44h14v1h-14zM69 55h14v1h-14zM29 84h13v1h-13zM29 85h13v1h-13zM151 87h13v1h-13zM178 96h13v1h-13zM137 102h14v1h-14zM124 110h13v1h-13zM205 121h13v1h-13zM124 127h13v1h-13zM151 127h13v1h-13zM137 142h14v1h-14zM124 155h13v1h-13zM110 170h14v1h-14zM137 183h14v1h-14zM15 192h14v1h-14zM42 193h14v1h-14zM110 198h14v1h-14zM42 257h14v1h-14zM110 263h14v1h-14zM191 280h14v1h-14zM178 302h13v1h-13zM151 313h13v1h-13zM96 316h14v1h-14zM164 322h14v1h-14zM178 327h13v1h-13zM69 357h14v1h-14zM205 357h13v1h-13zM69 359h14v1h-14zM137 373h14v1h-14zM124 376h13v1h-13z"/>
<path fill="#f5a5aa" d="M178 21h13v1h-13zM151 43h13v1h-13zM205 52h13v1h-13zM205 67h13v1h-13zM42 85h14v1h-14zM164 88h14v1h-14zM178 102h13v1h-13zM178 163h13v1h-13zM29 254h13v1h-13zM15 258h14v1h-14zM15 259h14v1h-14zM42 266h14v1h-14zM164 323h14v1h-14zM69 355h14v1h-14zM205 358h13v1h-13zM178 375h13v1h-13z"/>
<path fill="#f0faf0" d="M191 21h14v1h-14zM15 47h14v1h-14zM56 47h13v1h-13zM96 61h14v1h-14zM110 61h14v1h-14zM96 72h14v1h-14zM124 73h13v1h-13zM110 74h14v1h-14zM124 74h13v1h-13zM83 80h13v1h-13zM124 80h13v1h-13zM56 81h13v1h-13zM69 92h14v1h-14zM191 96h14v1h-14zM124 113h13v1h-13zM151 113h13v1h-13zM110 114h14v1h-14zM56 115h13v1h-13zM96 116h14v1h-14zM110 116h14v1h-14zM124 116h13v1h-13zM110 117h14v1h-14zM110 126h14v1h-14zM164 126h14v1h-14zM83 136h13v1h-13zM96 136h14v1h-14zM110 136h14v1h-14zM124 136h13v1h-13zM124 141h13v1h-13zM83 150h13v1h-13zM110 150h14v1h-14zM96 160h14v1h-14zM137 165h14v1h-14zM29 172h13v1h-13zM42 172h14v1h-14zM205 172h13v1h-13zM205 180h13v1h-13zM69 195h14v1h-14zM110 195h14v1h-14zM124 195h13v1h-13zM178 195h13v1h-13zM56 196h13v1h-13zM69 196h14v1h-14zM110 196h14v1h-14zM164 196h14v1h-14zM178 196h13v1h-13zM178 197h13v1h-13zM191 200h14v1h-14zM191 204h14v1h-14zM69 206h14v1h-14zM110 206h14v1h-14zM56 207h13v1h-13zM42 209h14v1h-14zM69 209h14v1h-14zM110 209h14v1h-14zM69 214h14v1h-14zM83 214h13v1h-13zM110 214h14v1h-14zM191 214h14v1h-14zM69 217h14v1h-14zM124 222h13v1h-13zM151 222h13v1h-13zM15 232h14v1h-14zM69 232h14v1h-14zM178 233h13v1h-13zM96 235h14v1h-14zM178 236h13v1h-13zM164 250h14v1h-14zM69 251h14v1h-14zM178 251h13v1h-13zM178 259h13v1h-13zM137 260h14v1h-14zM151 260h13v1h-13zM83 261h13v1h-13zM164 261h14v1h-14zM178 261h13v1h-13zM124 270h13v1h-13zM191 275h14v1h-14zM151 288h13v1h-13zM164 288h14v1h-14zM15 290h14v1h-14zM83 291h13v1h-13zM96 291h14v1h-14zM178 294h13v1h-13zM83 300h13v1h-13zM56 304h13v1h-13zM124 304h13v1h-13zM151 319h13v1h-13zM15 322h14v1h-14zM15 331h14v1h-14zM56 331h13v1h-13zM124 331h13v1h-13zM137 331h14v1h-14zM15 332h14v1h-14zM137 332h14v1h-14zM151 332h13v1h-13zM42 336h14v1h-14zM110 337h14v1h-14zM42 339h14v1h-14zM29 340h13v1h-13zM124 340h13v1h-13zM191 353h14v1h-14zM69 372h14v1h-14zM83 372h13v1h-13z"/>
<path fill="#b9e1be" d="M15 22h14v1h-14zM110 32h14v1h-14zM110 69h14v1h-14zM124 85h13v1h-13zM164 85h14v1h-14zM15 111h14v1h-14zM164 111h14v1h-14zM69 112h14v1h-14zM124 142h13v1h-13zM42 154h14v1h-14zM15 163h14v1h-14zM151 247h13v1h-13zM151 257h13v1h-13zM96 320h14v1h-14zM83 345h13v1h-13zM56 361h13v1h-13zM96 376h14v1h-14z"/>
<path fill="#fad2d2" d="M29 22h13v1h-13zM191 33h14v1h-14zM137 34h14v1h-14zM151 38h13v1h-13zM178 40h13v1h-13zM110 42h14v1h-14zM15 50h14v1h-14zM191 51h14v1h-14zM191 57h14v1h-14zM191 62h14v1h-14zM96 63h14v1h-14zM96 64h14v1h-14zM164 71h14v1h-14zM42 78h14v1h-14zM29 79h13v1h-13zM15 84h14v1h-14zM29 86h13v1h-13zM178 87h13v1h-13zM42 88h14v1h-14zM124 88h13v1h-13zM164 90h14v1h-14zM151 92h13v1h-13zM178 93h13v1h-13zM29 96h13v1h-13zM15 97h14v1h-14zM205 97h13v1h-13zM191 99h14v1h-14zM164 101h14v1h-14zM29 105h13v1h-13zM137 105h14v1h-14zM205 105h13v1h-13zM178 108h13v1h-13zM178 110h13v1h-13zM42 111h14v1h-14zM110 111h14v1h-14zM42 112h14v1h-14zM29 114h13v1h-13zM15 119h14v1h-14zM110 120h14v1h-14zM205 120h13v1h-13zM15 123h14v1h-14zM124 123h13v1h-13zM96 125h14v1h-14zM137 128h14v1h-14zM178 129h13v1h-13zM15 130h14v1h-14zM96 134h14v1h-14zM124 137h13v1h-13zM15 139h14v1h-14zM29 143h13v1h-13zM191 144h14v1h-14zM137 146h14v1h-14zM124 147h13v1h-13zM205 148h13v1h-13zM56 149h13v1h-13zM205 150h13v1h-13zM56 153h13v1h-13zM205 154h13v1h-13zM137 158h14v1h-14zM110 161h14v1h-14zM96 177h14v1h-14zM83 181h13v1h-13zM29 184h13v1h-13zM29 187h13v1h-13zM110 203h14v1h-14zM56 212h13v1h-13zM178 216h13v1h-13zM96 218h14v1h-14zM29 219h13v1h-13zM151 220h13v1h-13zM42 228h14v1h-14zM56 228h13v1h-13zM164 228h14v1h-14zM124 238h13v1h-13zM191 238h14v1h-14zM42 240h14v1h-14zM42 244h14v1h-14zM205 245h13v1h-13zM137 249h14v1h-14zM205 249h13v1h-13zM205 253h13v1h-13zM124 257h13v1h-13zM96 259h14v1h-14zM124 259h13v1h-13zM15 264h14v1h-14zM137 264h14v1h-14zM29 266h13v1h-13zM205 268h13v1h-13zM164 271h14v1h-14zM164 273h14v1h-14zM69 274h14v1h-14zM69 277h14v1h-14zM205 277h13v1h-13zM69 278h14v1h-14zM124 278h13v1h-13zM178 280h13v1h-13zM15 284h14v1h-14zM69 284h14v1h-14zM191 287h14v1h-14zM29 289h13v1h-13zM83 292h13v1h-13zM83 296h13v1h-13zM29 297h13v1h-13zM83 298h13v1h-13zM164 301h14v1h-14zM42 303h14v1h-14zM151 303h13v1h-13zM205 303h13v1h-13zM137 305h14v1h-14zM178 306h13v1h-13zM96 311h14v1h-14zM191 313h14v1h-14zM15 315h14v1h-14zM137 315h14v1h-14zM15 317h14v1h-14zM191 319h14v1h-14zM69 321h14v1h-14zM110 323h14v1h-14zM137 324h14v1h-14zM178 325h13v1h-13zM164 326h14v1h-14zM96 330h14v1h-14zM178 330h13v1h-13zM191 333h14v1h-14zM96 335h14v1h-14zM137 344h14v1h-14zM191 344h14v1h-14zM205 344h13v1h-13zM137 345h14v1h-14zM137 346h14v1h-14zM164 346h14v1h-14zM42 348h14v1h-14zM137 348h14v1h-14zM137 349h14v1h-14zM110 350h14v1h-14zM205 350h13v1h-13zM29 351h13v1h-13zM151 351h13v1h-13zM69 354h14v1h-14zM29 357h13v1h-13zM29 358h13v1h-13zM164 362h14v1h-14zM151 363h13v1h-13zM96 364h14v1h-14zM69 366h14v1h-14zM137 366h14v1h-14zM124 367h13v1h-13zM69 368h14v1h-14zM205 368h13v1h-13zM69 369h14v1h-14zM124 369h13v1h-13zM42 370h14v1h-14zM124 370h13v1h-13zM137 370h14v1h-14zM205 370h13v1h-13zM137 371h14v1h-14zM110 373h14v1h-14zM110 374h14v1h-14zM178 374h13v1h-13z"/>
<path fill="#cdebcd" d="M42 22h14v1h-14zM56 22h13v1h-13zM96 22h14v1h-14zM110 23h14v1h-14zM69 24h14v1h-14zM191 24h14v1h-14zM151 25h13v1h-13zM151 26h13v1h-13zM69 27h14v1h-14zM83 29h13v1h-13zM110 33h14v1h-14zM15 37h14v1h-14zM42 40h14v1h-14zM29 41h13v1h-13zM56 42h13v1h-13zM83 44h13v1h-13zM191 44h14v1h-14zM83 46h13v1h-13zM151 51h13v1h-13zM69 53h14v1h-14zM151 65h13v1h-13zM124 68h13v1h-13zM15 69h14v1h-14zM137 71h14v1h-14zM69 77h14v1h-14zM110 88h14v1h-14zM69 103h14v1h-14zM83 109h13v1h-13zM96 118h14v1h-14zM56 120h13v1h-13zM29 125h13v1h-13zM69 130h14v1h-14zM69 140h14v1h-14zM56 143h13v1h-13zM205 144h13v1h-13zM29 154h13v1h-13zM164 155h14v1h-14zM15 158h14v1h-14zM56 158h13v1h-13zM124 162h13v1h-13zM15 164h14v1h-14zM15 168h14v1h-14zM124 170h13v1h-13zM69 174h14v1h-14zM164 176h14v1h-14zM178 178h13v1h-13zM69 181h14v1h-14zM110 183h14v1h-14zM110 191h14v1h-14zM164 201h14v1h-14zM83 202h13v1h-13zM191 202h14v1h-14zM83 220h13v1h-13zM83 231h13v1h-13zM96 231h14v1h-14zM56 238h13v1h-13zM137 239h14v1h-14zM151 252h13v1h-13zM137 254h14v1h-14zM205 262h13v1h-13zM164 265h14v1h-14zM164 267h14v1h-14zM137 269h14v1h-14zM151 273h13v1h-13zM164 298h14v1h-14zM69 302h14v1h-14zM124 303h13v1h-13zM124 307h13v1h-13zM205 308h13v1h-13zM29 309h13v1h-13zM69 315h14v1h-14zM69 318h14v1h-14zM124 321h13v1h-13zM151 322h13v1h-13zM42 324h14v1h-14zM56 333h13v1h-13zM15 337h14v1h-14zM69 345h14v1h-14zM69 352h14v1h-14zM83 352h13v1h-13zM164 352h14v1h-14zM56 358h13v1h-13zM191 361h14v1h-14zM83 362h13v1h-13zM191 362h14v1h-14zM205 363h13v1h-13zM56 368h13v1h-13zM83 370h13v1h-13zM164 376h14v1h-14z"/>
<path fill="#b4e1b9" d="M83 22h13v1h-13zM69 31h14v1h-14zM56 58h13v1h-13zM110 58h14v1h-14zM151 60h13v1h-13zM151 64h13v1h-13zM164 65h14v1h-14zM137 70h14v1h-14zM83 101h13v1h-13zM110 104h14v1h-14zM56 108h13v1h-13zM69 110h14v1h-14zM56 121h13v1h-13zM110 127h14v1h-14zM151 129h13v1h-13zM69 149h14v1h-14zM15 153h14v1h-14zM15 159h14v1h-14zM83 164h13v1h-13zM110 167h14v1h-14zM42 169h14v1h-14zM15 174h14v1h-14zM110 188h14v1h-14zM124 192h13v1h-13zM69 193h14v1h-14zM151 193h13v1h-13zM124 194h13v1h-13zM151 194h13v1h-13zM83 199h13v1h-13zM151 241h13v1h-13zM137 256h14v1h-14zM205 257h13v1h-13zM56 259h13v1h-13zM69 309h14v1h-14zM83 317h13v1h-13zM56 319h13v1h-13zM56 323h13v1h-13zM151 323h13v1h-13zM205 323h13v1h-13zM56 324h13v1h-13zM110 329h14v1h-14zM69 342h14v1h-14zM29 344h13v1h-13zM15 346h14v1h-14zM96 348h14v1h-14zM151 350h13v1h-13zM124 355h13v1h-13zM15 376h14v1h-14z"/>
<path fill="#ebe1d7" d="M137 22h14v1h-14zM29 23h13v1h-13zM42 44h14v1h-14zM110 53h14v1h-14zM15 73h14v1h-14zM83 76h13v1h-13zM15 96h14v1h-14zM191 97h14v1h-14zM137 108h14v1h-14zM178 109h13v1h-13zM42 212h14v1h-14zM124 246h13v1h-13zM205 255h13v1h-13zM137 293h14v1h-14zM42 330h14v1h-14zM69 332h14v1h-14zM110 335h14v1h-14zM124 337h13v1h-13z"/>
<path fill="#e1f5e6" d="M151 22h13v1h-13zM205 26h13v1h-13zM29 48h13v1h-13zM164 49h14v1h-14zM137 63h14v1h-14zM110 72h14v1h-14zM56 75h13v1h-13zM96 81h14v1h-14zM83 83h13v1h-13zM42 90h14v1h-14zM56 92h13v1h-13zM164 116h14v1h-14zM42 118h14v1h-14zM42 122h14v1h-14zM137 122h14v1h-14zM56 126h13v1h-13zM164 135h14v1h-14zM69 138h14v1h-14zM164 139h14v1h-14zM110 148h14v1h-14zM151 150h13v1h-13zM164 166h14v1h-14zM83 172h13v1h-13zM56 184h13v1h-13zM178 184h13v1h-13zM69 207h14v1h-14zM42 208h14v1h-14zM83 218h13v1h-13zM164 223h14v1h-14zM69 227h14v1h-14zM96 229h14v1h-14zM69 231h14v1h-14zM164 233h14v1h-14zM15 236h14v1h-14zM151 236h13v1h-13zM110 255h14v1h-14zM56 261h13v1h-13zM178 285h13v1h-13zM191 295h14v1h-14zM151 297h13v1h-13zM124 310h13v1h-13zM110 321h14v1h-14zM205 322h13v1h-13zM164 334h14v1h-14zM151 335h13v1h-13zM15 336h14v1h-14zM69 340h14v1h-14zM56 344h13v1h-13zM124 346h13v1h-13zM56 349h13v1h-13zM56 351h13v1h-13zM191 360h14v1h-14zM42 365h14v1h-14zM164 374h14v1h-14z"/>
<path fill="#fab4b4" d="M178 22h13v1h-13zM137 29h14v1h-14zM178 35h13v1h-13zM110 43h14v1h-14zM205 55h13v1h-13zM29 59h13v1h-13zM15 60h14v1h-14zM110 77h14v1h-14zM137 77h14v1h-14zM96 78h14v1h-14zM178 89h13v1h-13zM137 97h14v1h-14zM124 98h13v1h-13zM164 98h14v1h-14zM191 119h14v1h-14zM124 120h13v1h-13zM29 133h13v1h-13zM191 134h14v1h-14zM83 142h13v1h-13zM42 143h14v1h-14zM191 143h14v1h-14zM205 143h13v1h-13zM83 144h13v1h-13zM29 147h13v1h-13zM178 149h13v1h-13zM191 153h14v1h-14zM137 155h14v1h-14zM205 158h13v1h-13zM83 161h13v1h-13zM178 168h13v1h-13zM110 176h14v1h-14zM15 181h14v1h-14zM29 183h13v1h-13zM42 188h14v1h-14zM191 188h14v1h-14zM137 199h14v1h-14zM110 223h14v1h-14zM42 248h14v1h-14zM69 248h14v1h-14zM15 256h14v1h-14zM29 263h13v1h-13zM191 302h14v1h-14zM83 306h13v1h-13zM42 314h14v1h-14zM178 324h13v1h-13zM178 326h13v1h-13zM178 329h13v1h-13zM69 335h14v1h-14zM137 342h14v1h-14zM178 342h13v1h-13zM29 350h13v1h-13zM137 350h14v1h-14zM96 352h14v1h-14zM29 356h13v1h-13zM29 365h13v1h-13zM29 374h13v1h-13z"/>
<path fill="#ebf5eb" d="M69 23h14v1h-14zM29 26h13v1h-13zM15 39h14v1h-14zM124 39h13v1h-13zM42 54h14v1h-14zM69 54h14v1h-14zM96 55h14v1h-14zM124 56h13v1h-13zM151 61h13v1h-13zM83 67h13v1h-13zM124 71h13v1h-13zM151 74h13v1h-13zM124 75h13v1h-13zM164 75h14v1h-14zM137 80h14v1h-14zM164 80h14v1h-14zM151 81h13v1h-13zM15 91h14v1h-14zM29 92h13v1h-13zM124 92h13v1h-13zM42 114h14v1h-14zM151 117h13v1h-13zM83 124h13v1h-13zM69 126h14v1h-14zM137 136h14v1h-14zM164 136h14v1h-14zM178 136h13v1h-13zM151 137h13v1h-13zM83 151h13v1h-13zM56 160h13v1h-13zM69 172h14v1h-14zM137 172h14v1h-14zM164 173h14v1h-14zM83 190h13v1h-13zM96 200h14v1h-14zM205 206h13v1h-13zM96 207h14v1h-14zM205 208h13v1h-13zM205 212h13v1h-13zM83 217h13v1h-13zM191 222h14v1h-14zM178 234h13v1h-13zM56 242h13v1h-13zM69 242h14v1h-14zM151 253h13v1h-13zM83 255h13v1h-13zM178 258h13v1h-13zM56 260h13v1h-13zM191 270h14v1h-14zM42 276h14v1h-14zM151 281h13v1h-13zM205 285h13v1h-13zM124 286h13v1h-13zM178 286h13v1h-13zM205 286h13v1h-13zM96 294h14v1h-14zM178 296h13v1h-13zM15 300h14v1h-14zM96 300h14v1h-14zM124 300h13v1h-13zM96 304h14v1h-14zM96 305h14v1h-14zM124 324h13v1h-13zM110 327h14v1h-14zM83 336h13v1h-13zM110 338h14v1h-14zM83 339h13v1h-13zM124 339h13v1h-13zM178 339h13v1h-13zM178 340h13v1h-13zM164 360h14v1h-14z"/>
<path fill="#fac8c8" d="M178 23h13v1h-13zM178 30h13v1h-13zM29 36h13v1h-13zM178 37h13v1h-13zM69 44h14v1h-14zM110 45h14v1h-14zM96 46h14v1h-14zM191 46h14v1h-14zM42 51h14v1h-14zM110 51h14v1h-14zM124 51h13v1h-13zM137 53h14v1h-14zM205 54h13v1h-13zM191 59h14v1h-14zM205 74h13v1h-13zM110 76h14v1h-14zM42 77h14v1h-14zM205 79h13v1h-13zM124 89h13v1h-13zM42 94h14v1h-14zM164 96h14v1h-14zM42 97h14v1h-14zM96 97h14v1h-14zM178 99h13v1h-13zM124 121h13v1h-13zM191 123h14v1h-14zM205 125h13v1h-13zM15 127h14v1h-14zM137 127h14v1h-14zM15 131h14v1h-14zM191 131h14v1h-14zM42 139h14v1h-14zM178 140h13v1h-13zM178 141h13v1h-13zM15 143h14v1h-14zM29 144h13v1h-13zM56 144h13v1h-13zM96 144h14v1h-14zM137 149h14v1h-14zM42 153h14v1h-14zM56 154h13v1h-13zM137 154h14v1h-14zM191 155h14v1h-14zM205 159h13v1h-13zM205 162h13v1h-13zM56 167h13v1h-13zM178 169h13v1h-13zM96 171h14v1h-14zM96 176h14v1h-14zM83 179h13v1h-13zM96 179h14v1h-14zM124 181h13v1h-13zM164 183h14v1h-14zM42 184h14v1h-14zM29 186h13v1h-13zM83 188h13v1h-13zM137 188h14v1h-14zM42 190h14v1h-14zM56 192h13v1h-13zM42 197h14v1h-14zM96 203h14v1h-14zM29 210h13v1h-13zM178 215h13v1h-13zM151 218h13v1h-13zM110 219h14v1h-14zM124 219h13v1h-13zM29 220h13v1h-13zM69 223h14v1h-14zM110 233h14v1h-14zM191 233h14v1h-14zM110 240h14v1h-14zM42 241h14v1h-14zM124 241h13v1h-13zM191 241h14v1h-14zM205 246h13v1h-13zM164 247h14v1h-14zM96 253h14v1h-14zM110 254h14v1h-14zM110 256h14v1h-14zM124 256h13v1h-13zM151 262h13v1h-13zM69 263h14v1h-14zM15 266h14v1h-14zM178 273h13v1h-13zM191 277h14v1h-14zM164 279h14v1h-14zM191 279h14v1h-14zM69 280h14v1h-14zM124 289h13v1h-13zM15 293h14v1h-14zM69 294h14v1h-14zM83 303h13v1h-13zM151 306h13v1h-13zM110 307h14v1h-14zM178 307h13v1h-13zM83 309h13v1h-13zM137 310h14v1h-14zM137 311h14v1h-14zM151 311h13v1h-13zM151 315h13v1h-13zM178 323h13v1h-13zM96 324h14v1h-14zM191 328h14v1h-14zM137 329h14v1h-14zM205 330h13v1h-13zM191 343h14v1h-14zM164 348h14v1h-14zM164 349h14v1h-14zM29 352h13v1h-13zM137 352h14v1h-14zM178 355h13v1h-13zM69 361h14v1h-14zM137 363h14v1h-14zM137 364h14v1h-14zM137 369h14v1h-14zM205 369h13v1h-13zM110 376h14v1h-14zM191 376h14v1h-14zM110 377h14v1h-14zM124 377h13v1h-13zM205 377h13v1h-13z"/>
<path fill="#bee6c3" d="M29 24h13v1h-13zM205 24h13v1h-13zM110 25h14v1h-14zM83 26h13v1h-13zM164 27h14v1h-14zM42 28h14v1h-14zM124 29h13v1h-13zM164 30h14v1h-14zM83 31h13v1h-13zM69 35h14v1h-14zM29 46h13v1h-13zM83 55h13v1h-13zM151 56h13v1h-13zM56 57h13v1h-13zM151 57h13v1h-13zM151 58h13v1h-13zM56 59h13v1h-13zM164 67h14v1h-14zM69 68h14v1h-14zM56 78h13v1h-13zM15 85h14v1h-14zM137 86h14v1h-14zM56 96h13v1h-13zM56 105h13v1h-13zM69 109h14v1h-14zM83 110h13v1h-13zM83 111h13v1h-13zM151 112h13v1h-13zM83 120h13v1h-13zM151 120h13v1h-13zM83 121h13v1h-13zM83 131h13v1h-13zM56 132h13v1h-13zM83 140h13v1h-13zM110 140h14v1h-14zM69 144h14v1h-14zM69 154h14v1h-14zM56 156h13v1h-13zM69 156h14v1h-14zM110 158h14v1h-14zM15 165h14v1h-14zM29 165h13v1h-13zM191 165h14v1h-14zM164 168h14v1h-14zM137 170h14v1h-14zM15 173h14v1h-14zM137 174h14v1h-14zM110 186h14v1h-14zM178 186h13v1h-13zM178 188h13v1h-13zM56 189h13v1h-13zM137 192h14v1h-14zM29 193h13v1h-13zM83 193h13v1h-13zM178 193h13v1h-13zM178 198h13v1h-13zM191 199h14v1h-14zM205 199h13v1h-13zM151 203h13v1h-13zM56 240h13v1h-13zM191 246h14v1h-14zM205 258h13v1h-13zM151 259h13v1h-13zM56 263h13v1h-13zM205 273h13v1h-13zM29 277h13v1h-13zM56 279h13v1h-13zM56 280h13v1h-13zM15 306h14v1h-14zM124 306h13v1h-13zM42 307h14v1h-14zM29 308h13v1h-13zM205 309h13v1h-13zM29 311h13v1h-13zM56 321h13v1h-13zM124 322h13v1h-13zM69 329h14v1h-14zM56 330h13v1h-13zM151 330h13v1h-13zM96 343h14v1h-14zM69 344h14v1h-14zM29 345h13v1h-13zM56 345h13v1h-13zM56 346h13v1h-13zM178 348h13v1h-13zM96 355h14v1h-14zM137 358h14v1h-14zM15 375h14v1h-14zM69 375h14v1h-14z"/>
<path fill="#dcf0e1" d="M42 24h14v1h-14zM15 25h14v1h-14zM29 29h13v1h-13zM42 35h14v1h-14zM29 39h13v1h-13zM164 39h14v1h-14zM124 46h13v1h-13zM29 49h13v1h-13zM96 57h14v1h-14zM124 59h13v1h-13zM42 65h14v1h-14zM96 68h14v1h-14zM137 72h14v1h-14zM56 79h13v1h-13zM69 88h14v1h-14zM205 90h13v1h-13zM83 107h13v1h-13zM56 113h13v1h-13zM96 114h14v1h-14zM151 122h13v1h-13zM29 123h13v1h-13zM69 123h14v1h-14zM69 135h14v1h-14zM124 145h13v1h-13zM83 149h13v1h-13zM15 160h14v1h-14zM124 160h13v1h-13zM56 161h13v1h-13zM83 166h13v1h-13zM110 166h14v1h-14zM205 173h13v1h-13zM29 181h13v1h-13zM191 182h14v1h-14zM191 185h14v1h-14zM69 190h14v1h-14zM124 190h13v1h-13zM69 197h14v1h-14zM69 199h14v1h-14zM69 210h14v1h-14zM69 213h14v1h-14zM191 223h14v1h-14zM69 234h14v1h-14zM164 234h14v1h-14zM164 238h14v1h-14zM137 242h14v1h-14zM56 244h13v1h-13zM151 255h13v1h-13zM83 268h13v1h-13zM83 270h13v1h-13zM137 273h14v1h-14zM96 274h14v1h-14zM205 274h13v1h-13zM205 281h13v1h-13zM56 285h13v1h-13zM151 285h13v1h-13zM96 288h14v1h-14zM164 294h14v1h-14zM124 309h13v1h-13zM15 325h14v1h-14zM69 325h14v1h-14zM110 326h14v1h-14zM110 333h14v1h-14zM83 335h13v1h-13zM56 348h13v1h-13zM69 351h14v1h-14zM56 354h13v1h-13zM178 362h13v1h-13zM178 363h13v1h-13zM191 370h14v1h-14zM164 371h14v1h-14z"/>
<path fill="#d2f0d2" d="M124 24h13v1h-13zM205 49h13v1h-13zM164 56h14v1h-14zM137 69h14v1h-14zM191 73h14v1h-14zM151 138h13v1h-13zM151 140h13v1h-13zM164 151h14v1h-14zM96 164h14v1h-14zM110 193h14v1h-14zM56 198h13v1h-13zM96 201h14v1h-14zM137 213h14v1h-14zM205 226h13v1h-13zM29 240h13v1h-13zM205 283h13v1h-13zM83 284h13v1h-13zM137 355h14v1h-14zM56 369h13v1h-13z"/>
<path fill="#f5a0a5" d="M178 24h13v1h-13zM178 58h13v1h-13zM178 62h13v1h-13zM56 111h13v1h-13zM96 127h14v1h-14zM178 167h13v1h-13zM178 171h13v1h-13zM15 178h14v1h-14zM42 187h14v1h-14zM42 192h14v1h-14zM191 282h14v1h-14z"/>
<path fill="#fabebe" d="M137 25h14v1h-14zM151 41h13v1h-13zM151 42h13v1h-13zM137 43h14v1h-14zM151 44h13v1h-13zM69 45h14v1h-14zM96 45h14v1h-14zM178 45h13v1h-13zM42 52h14v1h-14zM110 52h14v1h-14zM191 52h14v1h-14zM29 54h13v1h-13zM29 56h13v1h-13zM29 57h13v1h-13zM15 62h14v1h-14zM29 62h13v1h-13zM29 73h13v1h-13zM178 73h13v1h-13zM110 85h14v1h-14zM164 87h14v1h-14zM96 98h14v1h-14zM137 112h14v1h-14zM178 119h13v1h-13zM96 121h14v1h-14zM164 121h14v1h-14zM124 125h13v1h-13zM42 129h14v1h-14zM29 130h13v1h-13zM178 132h13v1h-13zM191 140h14v1h-14zM42 142h14v1h-14zM124 153h13v1h-13zM151 154h13v1h-13zM151 159h13v1h-13zM191 170h14v1h-14zM178 175h13v1h-13zM83 178h13v1h-13zM124 178h13v1h-13zM151 178h13v1h-13zM151 181h13v1h-13zM96 186h14v1h-14zM56 193h13v1h-13zM205 193h13v1h-13zM15 194h14v1h-14zM29 201h13v1h-13zM110 202h14v1h-14zM178 219h13v1h-13zM96 220h14v1h-14zM110 222h14v1h-14zM110 226h14v1h-14zM151 228h13v1h-13zM110 239h14v1h-14zM96 244h14v1h-14zM124 245h13v1h-13zM42 250h14v1h-14zM29 252h13v1h-13zM42 253h14v1h-14zM29 255h13v1h-13zM29 259h13v1h-13zM124 264h13v1h-13zM69 268h14v1h-14zM83 279h13v1h-13zM124 279h13v1h-13zM69 282h14v1h-14zM29 295h13v1h-13zM42 295h14v1h-14zM29 298h13v1h-13zM137 298h14v1h-14zM205 302h13v1h-13zM164 310h14v1h-14zM29 313h13v1h-13zM137 313h14v1h-14zM205 315h13v1h-13zM164 321h14v1h-14zM151 348h13v1h-13zM96 349h14v1h-14zM96 351h14v1h-14zM83 358h13v1h-13zM151 361h13v1h-13zM137 365h14v1h-14zM151 365h13v1h-13zM29 366h13v1h-13zM29 373h13v1h-13z"/>
<path fill="#ebe6dc" d="M164 25h14v1h-14zM178 27h13v1h-13zM137 46h14v1h-14zM42 87h14v1h-14zM151 93h13v1h-13zM110 107h14v1h-14zM69 108h14v1h-14zM164 130h14v1h-14zM42 134h14v1h-14zM83 148h13v1h-13zM137 164h14v1h-14zM151 166h13v1h-13zM56 185h13v1h-13zM164 210h14v1h-14zM137 211h14v1h-14zM96 212h14v1h-14zM96 223h14v1h-14zM137 253h14v1h-14zM83 263h13v1h-13zM15 267h14v1h-14zM124 281h13v1h-13zM137 281h14v1h-14zM15 289h14v1h-14zM137 296h14v1h-14zM205 298h13v1h-13zM15 334h14v1h-14zM137 334h14v1h-14zM205 334h13v1h-13zM96 344h14v1h-14zM205 360h13v1h-13z"/>
<path fill="#e1cdbe" d="M178 25h13v1h-13zM29 375h13v1h-13z"/>
<path fill="#e1d7c8" d="M137 26h14v1h-14zM96 31h14v1h-14zM205 142h13v1h-13zM151 170h13v1h-13zM56 218h13v1h-13zM205 231h13v1h-13zM83 325h13v1h-13zM15 355h14v1h-14zM205 366h13v1h-13z"/>
<path fill="#fae6e6" d="M178 26h13v1h-13zM191 35h14v1h-14zM178 38h13v1h-13zM178 42h13v1h-13zM96 48h14v1h-14zM96 49h14v1h-14zM178 50h13v1h-13zM191 50h14v1h-14zM42 66h14v1h-14zM151 72h13v1h-13zM96 75h14v1h-14zM42 81h14v1h-14zM29 83h13v1h-13zM96 83h14v1h-14zM191 87h14v1h-14zM164 91h14v1h-14zM178 91h13v1h-13zM110 92h14v1h-14zM164 92h14v1h-14zM205 107h13v1h-13zM191 113h14v1h-14zM191 116h14v1h-14zM110 122h14v1h-14zM15 126h14v1h-14zM178 126h13v1h-13zM205 133h13v1h-13zM96 141h14v1h-14zM96 145h14v1h-14zM205 146h13v1h-13zM96 147h14v1h-14zM15 148h14v1h-14zM15 150h14v1h-14zM151 162h13v1h-13zM83 182h13v1h-13zM164 185h14v1h-14zM110 204h14v1h-14zM29 207h13v1h-13zM124 211h13v1h-13zM29 213h13v1h-13zM124 213h13v1h-13zM15 222h14v1h-14zM96 222h14v1h-14zM15 223h14v1h-14zM124 229h13v1h-13zM178 237h13v1h-13zM42 239h14v1h-14zM164 244h14v1h-14zM42 260h14v1h-14zM69 261h14v1h-14zM96 265h14v1h-14zM29 271h13v1h-13zM110 274h14v1h-14zM178 275h13v1h-13zM15 285h14v1h-14zM69 285h14v1h-14zM110 286h14v1h-14zM137 289h14v1h-14zM69 290h14v1h-14zM15 292h14v1h-14zM164 304h14v1h-14zM96 310h14v1h-14zM178 310h13v1h-13zM178 318h13v1h-13zM205 318h13v1h-13zM178 321h13v1h-13zM137 327h14v1h-14zM191 327h14v1h-14zM96 332h14v1h-14zM178 334h13v1h-13zM191 339h14v1h-14zM164 340h14v1h-14zM151 346h13v1h-13zM205 352h13v1h-13z"/>
<path fill="#c8e6c8" d="M56 27h13v1h-13zM15 29h14v1h-14zM29 35h13v1h-13zM83 35h13v1h-13zM124 36h13v1h-13zM83 38h13v1h-13zM205 40h13v1h-13zM42 41h14v1h-14zM56 41h13v1h-13zM83 60h13v1h-13zM164 60h14v1h-14zM137 68h14v1h-14zM83 71h13v1h-13zM151 78h13v1h-13zM151 86h13v1h-13zM205 99h13v1h-13zM83 103h13v1h-13zM151 103h13v1h-13zM42 120h14v1h-14zM56 123h13v1h-13zM110 123h14v1h-14zM137 140h14v1h-14zM96 153h14v1h-14zM15 154h14v1h-14zM42 161h14v1h-14zM42 162h14v1h-14zM164 164h14v1h-14zM124 167h13v1h-13zM164 167h14v1h-14zM42 168h14v1h-14zM191 187h14v1h-14zM15 218h14v1h-14zM56 220h13v1h-13zM96 227h14v1h-14zM83 248h13v1h-13zM164 256h14v1h-14zM178 263h13v1h-13zM191 266h14v1h-14zM137 271h14v1h-14zM137 280h14v1h-14zM205 280h13v1h-13zM151 282h13v1h-13zM83 283h13v1h-13zM178 283h13v1h-13zM96 292h14v1h-14zM42 306h14v1h-14zM42 309h14v1h-14zM69 310h14v1h-14zM69 316h14v1h-14zM83 318h13v1h-13zM56 322h13v1h-13zM110 328h14v1h-14zM205 328h13v1h-13zM96 329h14v1h-14zM137 333h14v1h-14zM69 338h14v1h-14zM42 346h14v1h-14zM29 348h13v1h-13zM191 356h14v1h-14zM96 358h14v1h-14zM83 368h13v1h-13zM56 373h13v1h-13zM69 374h14v1h-14zM83 374h13v1h-13zM69 376h14v1h-14zM42 377h14v1h-14z"/>
<path fill="#b4e1b4" d="M83 27h13v1h-13zM69 29h14v1h-14zM15 53h14v1h-14zM124 70h13v1h-13zM69 71h14v1h-14zM69 102h14v1h-14zM83 114h13v1h-13zM178 144h13v1h-13zM151 149h13v1h-13zM124 154h13v1h-13zM29 156h13v1h-13zM29 158h13v1h-13zM164 161h14v1h-14zM83 168h13v1h-13zM83 176h13v1h-13zM205 176h13v1h-13zM151 192h13v1h-13zM178 199h13v1h-13zM191 203h14v1h-14zM191 248h14v1h-14zM137 262h14v1h-14zM137 283h14v1h-14zM83 302h13v1h-13zM69 311h14v1h-14zM164 359h14v1h-14zM15 361h14v1h-14zM42 373h14v1h-14z"/>
<path fill="#c3cdaf" d="M96 27h14v1h-14z"/>
<path fill="#a5dcaa" d="M124 27h13v1h-13zM56 33h13v1h-13zM124 34h13v1h-13zM56 44h13v1h-13zM56 46h13v1h-13zM83 69h13v1h-13zM69 70h14v1h-14zM56 71h13v1h-13zM151 102h13v1h-13zM83 104h13v1h-13zM42 121h14v1h-14zM164 131h14v1h-14zM42 156h14v1h-14zM178 156h13v1h-13zM96 157h14v1h-14zM69 161h14v1h-14zM15 175h14v1h-14zM83 175h13v1h-13zM69 189h14v1h-14zM178 189h13v1h-13zM56 241h13v1h-13zM124 248h13v1h-13zM137 257h14v1h-14zM205 263h13v1h-13zM124 298h13v1h-13zM56 311h13v1h-13zM178 313h13v1h-13zM56 317h13v1h-13zM83 323h13v1h-13zM124 323h13v1h-13zM83 328h13v1h-13zM56 342h13v1h-13zM83 350h13v1h-13zM83 376h13v1h-13z"/>
<path fill="#f59196" d="M137 27h14v1h-14zM178 31h13v1h-13zM15 100h14v1h-14zM42 103h14v1h-14zM178 125h13v1h-13zM42 202h14v1h-14zM29 262h13v1h-13zM110 262h14v1h-14zM42 264h14v1h-14zM137 306h14v1h-14zM164 311h14v1h-14z"/>
<path fill="#cdb9a0" d="M151 27h13v1h-13zM205 164h13v1h-13z"/>
<path fill="#f59ba0" d="M191 27h14v1h-14zM137 31h14v1h-14zM205 51h13v1h-13zM178 56h13v1h-13zM83 77h13v1h-13zM178 78h13v1h-13zM178 128h13v1h-13zM15 185h14v1h-14zM42 186h14v1h-14zM96 255h14v1h-14zM42 256h14v1h-14zM151 364h13v1h-13z"/>
<path fill="#9bd7a0" d="M15 28h14v1h-14zM110 31h14v1h-14zM56 34h13v1h-13zM56 43h13v1h-13zM205 44h13v1h-13zM29 69h13v1h-13zM69 85h14v1h-14zM42 176h14v1h-14zM69 176h14v1h-14zM96 189h14v1h-14zM178 192h13v1h-13zM124 302h13v1h-13zM29 342h13v1h-13zM83 342h13v1h-13z"/>
<path fill="#a0d7a0" d="M56 28h13v1h-13zM124 156h13v1h-13zM178 241h13v1h-13zM56 309h13v1h-13zM42 343h14v1h-14z"/>
<path fill="#96d79b" d="M83 28h13v1h-13zM191 164h14v1h-14zM191 168h14v1h-14zM29 171h13v1h-13zM56 175h13v1h-13zM137 175h14v1h-14zM69 188h14v1h-14zM191 262h14v1h-14zM15 307h14v1h-14zM69 307h14v1h-14zM56 328h13v1h-13zM56 329h13v1h-13zM56 376h13v1h-13zM15 377h14v1h-14zM83 377h13v1h-13z"/>
<path fill="#f57d7d" d="M137 28h14v1h-14zM29 51h13v1h-13zM42 102h14v1h-14zM191 121h14v1h-14zM96 238h14v1h-14zM96 257h14v1h-14zM83 308h13v1h-13z"/>
<path fill="#f57878" d="M151 28h13v1h-13zM191 120h14v1h-14zM42 149h14v1h-14zM15 183h14v1h-14z"/>
<path fill="#bee6be" d="M164 28h14v1h-14zM205 30h13v1h-13zM124 35h13v1h-13zM83 37h13v1h-13zM124 43h13v1h-13zM69 52h14v1h-14zM83 53h13v1h-13zM151 55h13v1h-13zM69 57h14v1h-14zM137 58h14v1h-14zM164 58h14v1h-14zM164 64h14v1h-14zM151 66h13v1h-13zM124 67h13v1h-13zM56 77h13v1h-13zM137 78h14v1h-14zM96 84h14v1h-14zM56 94h13v1h-13zM110 99h14v1h-14zM124 99h13v1h-13zM137 110h14v1h-14zM96 140h14v1h-14zM151 143h13v1h-13zM29 153h13v1h-13zM124 159h13v1h-13zM164 171h14v1h-14zM178 176h13v1h-13zM191 178h14v1h-14zM110 187h14v1h-14zM151 246h13v1h-13zM164 248h14v1h-14zM29 249h13v1h-13zM178 252h13v1h-13zM56 254h13v1h-13zM191 257h14v1h-14zM83 262h13v1h-13zM56 266h13v1h-13zM164 282h14v1h-14zM178 282h13v1h-13zM15 302h14v1h-14zM15 313h14v1h-14zM56 313h13v1h-13zM42 322h14v1h-14zM56 337h13v1h-13zM15 348h14v1h-14z"/>
<path fill="#fad2d7" d="M178 28h13v1h-13zM42 37h14v1h-14zM191 41h14v1h-14zM191 56h14v1h-14zM137 89h14v1h-14zM205 89h13v1h-13zM164 95h14v1h-14zM137 103h14v1h-14zM124 108h13v1h-13zM205 109h13v1h-13zM178 114h13v1h-13zM178 117h13v1h-13zM110 163h14v1h-14zM151 163h13v1h-13zM96 174h14v1h-14zM96 178h14v1h-14zM151 184h13v1h-13zM56 191h13v1h-13zM15 198h14v1h-14zM124 233h13v1h-13zM178 245h13v1h-13zM124 254h13v1h-13zM151 268h13v1h-13zM15 271h14v1h-14zM164 278h14v1h-14zM42 289h14v1h-14zM137 322h14v1h-14zM164 330h14v1h-14zM178 346h13v1h-13zM191 346h14v1h-14zM151 352h13v1h-13zM151 358h13v1h-13zM191 368h14v1h-14zM29 371h13v1h-13zM124 371h13v1h-13z"/>
<path fill="#c8af96" d="M191 28h14v1h-14z"/>
<path fill="#afe1b4" d="M205 28h13v1h-13zM124 31h13v1h-13zM151 33h13v1h-13zM205 46h13v1h-13zM56 53h13v1h-13zM110 57h14v1h-14zM205 62h13v1h-13zM56 86h13v1h-13zM164 86h14v1h-14zM56 88h13v1h-13zM56 98h13v1h-13zM69 99h14v1h-14zM110 102h14v1h-14zM151 121h13v1h-13zM151 131h13v1h-13zM205 140h13v1h-13zM110 142h14v1h-14zM110 157h14v1h-14zM69 159h14v1h-14zM56 164h13v1h-13zM42 170h14v1h-14zM69 171h14v1h-14zM137 171h14v1h-14zM191 183h14v1h-14zM205 186h13v1h-13zM56 199h13v1h-13zM56 219h13v1h-13zM205 229h13v1h-13zM96 234h14v1h-14zM96 302h14v1h-14zM56 306h13v1h-13zM56 308h13v1h-13zM69 317h14v1h-14zM110 342h14v1h-14zM56 343h13v1h-13zM124 343h13v1h-13zM15 373h14v1h-14zM42 376h14v1h-14zM56 377h13v1h-13z"/>
<path fill="#f5a5a5" d="M151 29h13v1h-13zM137 30h14v1h-14zM15 51h14v1h-14zM178 52h13v1h-13zM29 58h13v1h-13zM15 65h14v1h-14zM178 67h13v1h-13zM178 95h13v1h-13zM56 102h13v1h-13zM191 148h14v1h-14zM42 150h14v1h-14zM178 151h13v1h-13zM15 187h14v1h-14zM15 189h14v1h-14zM42 247h14v1h-14zM42 249h14v1h-14zM15 262h14v1h-14zM191 283h14v1h-14zM164 314h14v1h-14zM178 343h13v1h-13zM29 361h13v1h-13zM29 364h13v1h-13z"/>
<path fill="#f5969b" d="M191 29h14v1h-14zM178 32h13v1h-13zM178 68h13v1h-13zM42 104h14v1h-14zM15 152h14v1h-14zM110 175h14v1h-14zM110 220h14v1h-14zM42 252h14v1h-14zM96 262h14v1h-14zM137 308h14v1h-14zM164 308h14v1h-14zM42 350h14v1h-14z"/>
<path fill="#aadcaa" d="M29 30h13v1h-13zM29 31h13v1h-13zM56 52h13v1h-13zM110 98h14v1h-14zM83 99h13v1h-13zM124 143h13v1h-13zM42 167h14v1h-14zM178 183h13v1h-13zM83 307h13v1h-13zM42 308h14v1h-14zM69 330h14v1h-14zM42 342h14v1h-14zM178 350h13v1h-13zM83 373h13v1h-13z"/>
<path fill="#87d28c" d="M56 30h13v1h-13zM69 30h14v1h-14zM191 167h14v1h-14z"/>
<path fill="#7dcd82" d="M83 30h13v1h-13zM205 43h13v1h-13zM83 70h13v1h-13zM96 356h14v1h-14z"/>
<path fill="#c8ebc8" d="M96 30h14v1h-14zM15 35h14v1h-14zM56 37h13v1h-13zM56 56h13v1h-13zM83 57h13v1h-13zM124 64h13v1h-13zM137 64h14v1h-14zM69 65h14v1h-14zM164 66h14v1h-14zM69 73h14v1h-14zM83 73h13v1h-13zM15 88h14v1h-14zM56 104h13v1h-13zM151 111h13v1h-13zM56 114h13v1h-13zM83 129h13v1h-13zM164 132h14v1h-14zM164 143h14v1h-14zM69 153h14v1h-14zM110 154h14v1h-14zM69 155h14v1h-14zM110 156h14v1h-14zM124 165h13v1h-13zM56 174h13v1h-13zM124 191h13v1h-13zM29 194h13v1h-13zM178 228h13v1h-13zM164 237h14v1h-14zM151 238h13v1h-13zM69 239h14v1h-14zM178 240h13v1h-13zM191 245h14v1h-14zM178 247h13v1h-13zM124 249h13v1h-13zM191 263h14v1h-14zM191 264h14v1h-14zM96 271h14v1h-14zM42 279h14v1h-14zM42 294h14v1h-14zM96 301h14v1h-14zM15 310h14v1h-14zM83 316h13v1h-13zM29 324h13v1h-13zM69 337h14v1h-14zM124 362h13v1h-13zM178 366h13v1h-13zM69 373h14v1h-14zM96 373h14v1h-14zM164 373h14v1h-14z"/>
<path fill="#6ec878" d="M124 30h13v1h-13zM151 176h13v1h-13z"/>
<path fill="#c8c8af" d="M151 30h13v1h-13zM137 32h14v1h-14zM29 192h13v1h-13z"/>
<path fill="#f5787d" d="M191 30h14v1h-14zM29 53h13v1h-13zM29 67h13v1h-13zM42 148h14v1h-14zM29 152h13v1h-13zM191 163h14v1h-14zM42 194h14v1h-14zM42 201h14v1h-14z"/>
<path fill="#a0dca5" d="M42 31h14v1h-14zM83 34h13v1h-13zM205 36h13v1h-13zM205 37h13v1h-13zM29 45h13v1h-13zM56 45h13v1h-13zM205 45h13v1h-13zM96 58h14v1h-14zM151 59h13v1h-13zM151 62h13v1h-13zM124 84h13v1h-13zM83 127h13v1h-13zM151 134h13v1h-13zM69 143h14v1h-14zM69 148h14v1h-14zM164 153h14v1h-14zM83 189h13v1h-13zM164 199h14v1h-14zM151 202h13v1h-13zM69 203h14v1h-14zM56 257h13v1h-13zM96 279h14v1h-14z"/>
<path fill="#f59b9b" d="M151 31h13v1h-13zM178 131h13v1h-13zM56 171h13v1h-13zM191 311h14v1h-14z"/>
<path fill="#f58287" d="M191 31h14v1h-14zM29 55h13v1h-13zM205 56h13v1h-13zM29 99h13v1h-13zM15 188h14v1h-14z"/>
<path fill="#69c36e" d="M205 31h13v1h-13zM42 375h14v1h-14z"/>
<path fill="#a0d7a5" d="M15 32h14v1h-14zM56 85h13v1h-13zM83 85h13v1h-13zM83 102h13v1h-13zM124 157h13v1h-13zM191 201h14v1h-14zM56 375h13v1h-13z"/>
<path fill="#82cd8c" d="M56 32h13v1h-13zM69 152h14v1h-14z"/>
<path fill="#82cd87" d="M83 32h13v1h-13zM205 34h13v1h-13zM178 157h13v1h-13zM151 175h13v1h-13zM56 252h13v1h-13z"/>
<path fill="#fac3c8" d="M96 32h14v1h-14zM151 36h13v1h-13zM178 43h13v1h-13zM29 50h13v1h-13zM110 84h14v1h-14zM56 112h13v1h-13zM137 120h14v1h-14zM137 121h14v1h-14zM191 130h14v1h-14zM205 131h13v1h-13zM83 133h13v1h-13zM164 149h14v1h-14zM69 165h14v1h-14zM56 178h13v1h-13zM96 181h14v1h-14zM83 187h13v1h-13zM42 191h14v1h-14zM205 194h13v1h-13zM29 203h13v1h-13zM42 233h14v1h-14zM42 238h14v1h-14zM110 252h14v1h-14zM42 283h14v1h-14zM15 294h14v1h-14zM137 301h14v1h-14zM96 313h14v1h-14zM124 313h13v1h-13zM164 315h14v1h-14zM164 320h14v1h-14zM164 342h14v1h-14zM151 343h13v1h-13zM205 343h13v1h-13zM110 375h14v1h-14z"/>
<path fill="#b9e1b9" d="M124 32h13v1h-13zM83 33h13v1h-13zM96 59h14v1h-14zM164 63h14v1h-14zM205 76h13v1h-13zM15 89h14v1h-14zM56 109h13v1h-13zM15 112h14v1h-14zM83 112h13v1h-13zM56 131h13v1h-13zM151 152h13v1h-13zM124 158h13v1h-13zM83 192h13v1h-13zM83 219h13v1h-13zM151 245h13v1h-13zM69 257h14v1h-14zM56 258h13v1h-13zM137 279h14v1h-14zM110 313h14v1h-14zM56 314h13v1h-13zM83 319h13v1h-13zM83 321h13v1h-13zM83 356h13v1h-13zM96 357h14v1h-14zM83 375h13v1h-13z"/>
<path fill="#78c882" d="M151 32h13v1h-13z"/>
<path fill="#46b44b" d="M205 32h13v1h-13z"/>
<path fill="#91d296" d="M15 33h14v1h-14zM205 33h13v1h-13zM29 43h13v1h-13zM56 70h13v1h-13zM56 262h13v1h-13zM42 298h14v1h-14zM69 308h14v1h-14z"/>
<path fill="#faaaaf" d="M96 33h14v1h-14zM191 42h14v1h-14zM42 70h14v1h-14zM205 72h13v1h-13zM83 78h13v1h-13zM191 98h14v1h-14zM110 110h14v1h-14zM110 121h14v1h-14zM178 123h13v1h-13zM42 131h14v1h-14zM15 149h14v1h-14zM191 171h14v1h-14zM191 176h14v1h-14zM137 202h14v1h-14zM96 243h14v1h-14zM110 246h14v1h-14zM69 296h14v1h-14zM29 301h13v1h-13zM191 306h14v1h-14zM151 307h13v1h-13zM178 344h13v1h-13zM137 375h14v1h-14z"/>
<path fill="#8cd291" d="M124 33h13v1h-13zM205 35h13v1h-13zM56 176h13v1h-13zM56 307h13v1h-13zM15 343h14v1h-14zM69 343h14v1h-14z"/>
<path fill="#dcd2c3" d="M29 34h13v1h-13zM15 170h14v1h-14zM96 266h14v1h-14zM124 349h13v1h-13zM124 359h13v1h-13z"/>
<path fill="#e1cdc3" d="M69 34h14v1h-14zM15 296h14v1h-14z"/>
<path fill="#f0c8c8" d="M96 34h14v1h-14z"/>
<path fill="#f58c8c" d="M151 34h13v1h-13zM15 140h14v1h-14zM205 153h13v1h-13zM137 307h14v1h-14zM164 307h14v1h-14z"/>
<path fill="#faaaaa" d="M178 34h13v1h-13zM151 37h13v1h-13zM110 44h14v1h-14zM15 52h14v1h-14zM178 59h13v1h-13zM15 64h14v1h-14zM137 95h14v1h-14zM29 121h13v1h-13zM178 121h13v1h-13zM29 132h13v1h-13zM29 149h13v1h-13zM205 149h13v1h-13zM191 151h14v1h-14zM178 153h13v1h-13zM205 157h13v1h-13zM178 164h13v1h-13zM191 189h14v1h-14zM96 192h14v1h-14zM110 228h14v1h-14zM15 252h14v1h-14zM29 256h13v1h-13zM42 268h14v1h-14zM191 284h14v1h-14zM69 297h14v1h-14z"/>
<path fill="#dcdccd" d="M96 35h14v1h-14zM110 105h14v1h-14zM110 132h14v1h-14zM96 152h14v1h-14zM191 314h14v1h-14zM15 316h14v1h-14z"/>
<path fill="#faafb4" d="M151 35h13v1h-13zM191 43h14v1h-14zM178 55h13v1h-13zM29 71h13v1h-13zM137 96h14v1h-14zM137 100h14v1h-14zM56 170h13v1h-13zM96 175h14v1h-14zM110 199h14v1h-14zM42 245h14v1h-14zM15 255h14v1h-14zM69 262h14v1h-14zM42 265h14v1h-14zM29 279h13v1h-13zM164 280h14v1h-14zM15 282h14v1h-14zM151 308h13v1h-13zM164 309h14v1h-14zM29 314h13v1h-13zM151 362h13v1h-13z"/>
<path fill="#f0e1dc" d="M42 36h14v1h-14zM29 111h13v1h-13zM151 226h13v1h-13zM110 272h14v1h-14zM15 303h14v1h-14zM137 360h14v1h-14zM15 366h14v1h-14zM178 370h13v1h-13z"/>
<path fill="#ffebeb" d="M164 36h14v1h-14zM151 48h13v1h-13zM42 49h14v1h-14zM69 49h14v1h-14zM15 61h14v1h-14zM178 61h13v1h-13zM29 74h13v1h-13zM42 74h14v1h-14zM15 75h14v1h-14zM110 75h14v1h-14zM137 75h14v1h-14zM191 75h14v1h-14zM29 80h13v1h-13zM110 80h14v1h-14zM191 80h14v1h-14zM205 80h13v1h-13zM178 83h13v1h-13zM96 87h14v1h-14zM96 91h14v1h-14zM205 91h13v1h-13zM191 92h14v1h-14zM205 92h13v1h-13zM110 93h14v1h-14zM29 95h13v1h-13zM42 107h14v1h-14zM191 115h14v1h-14zM205 116h13v1h-13zM15 117h14v1h-14zM29 117h13v1h-13zM69 117h14v1h-14zM96 122h14v1h-14zM42 124h14v1h-14zM96 124h14v1h-14zM29 135h13v1h-13zM42 136h14v1h-14zM56 136h13v1h-13zM191 137h14v1h-14zM178 139h13v1h-13zM137 141h14v1h-14zM191 150h14v1h-14zM137 160h14v1h-14zM151 160h13v1h-13zM151 161h13v1h-13zM110 172h14v1h-14zM191 172h14v1h-14zM29 196h13v1h-13zM124 196h13v1h-13zM191 196h14v1h-14zM137 197h14v1h-14zM42 200h14v1h-14zM137 200h14v1h-14zM42 206h14v1h-14zM29 208h13v1h-13zM124 208h13v1h-13zM137 208h14v1h-14zM178 208h13v1h-13zM56 211h13v1h-13zM164 211h14v1h-14zM151 213h13v1h-13zM124 214h13v1h-13zM56 217h13v1h-13zM137 217h14v1h-14zM151 217h13v1h-13zM110 221h14v1h-14zM124 223h13v1h-13zM110 224h14v1h-14zM110 225h14v1h-14zM124 228h13v1h-13zM42 232h14v1h-14zM110 232h14v1h-14zM110 235h14v1h-14zM42 242h14v1h-14zM124 243h13v1h-13zM205 243h13v1h-13zM15 250h14v1h-14zM29 260h13v1h-13zM110 260h14v1h-14zM96 261h14v1h-14zM137 263h14v1h-14zM137 265h14v1h-14zM137 268h14v1h-14zM29 270h13v1h-13zM151 274h13v1h-13zM151 275h13v1h-13zM164 276h14v1h-14zM29 281h13v1h-13zM69 286h14v1h-14zM164 286h14v1h-14zM69 287h14v1h-14zM110 287h14v1h-14zM42 288h14v1h-14zM56 288h13v1h-13zM69 288h14v1h-14zM83 288h13v1h-13zM191 288h14v1h-14zM29 290h13v1h-13zM56 290h13v1h-13zM29 291h13v1h-13zM56 291h13v1h-13zM137 291h14v1h-14zM205 293h13v1h-13zM205 294h13v1h-13zM205 296h13v1h-13zM69 300h14v1h-14zM110 300h14v1h-14zM151 300h13v1h-13zM205 300h13v1h-13zM15 304h14v1h-14zM137 304h14v1h-14zM151 305h13v1h-13zM96 312h14v1h-14zM110 318h14v1h-14zM151 328h13v1h-13zM164 332h14v1h-14zM191 332h14v1h-14zM15 335h14v1h-14zM137 336h14v1h-14zM151 336h13v1h-13zM164 336h14v1h-14zM96 339h14v1h-14zM205 339h13v1h-13zM96 340h14v1h-14zM42 351h14v1h-14zM110 352h14v1h-14zM96 353h14v1h-14zM42 360h14v1h-14zM69 360h14v1h-14zM110 367h14v1h-14zM124 368h13v1h-13zM15 370h14v1h-14zM29 372h13v1h-13z"/>
<path fill="#ebebe1" d="M29 37h13v1h-13zM96 126h14v1h-14zM137 151h14v1h-14zM191 190h14v1h-14zM124 197h13v1h-13zM15 204h14v1h-14zM96 211h14v1h-14zM83 213h13v1h-13zM137 335h14v1h-14zM124 366h13v1h-13zM110 369h14v1h-14z"/>
<path fill="#ebebdc" d="M96 37h14v1h-14zM124 201h13v1h-13z"/>
<path fill="#ebe1dc" d="M137 37h14v1h-14zM56 226h13v1h-13zM191 243h14v1h-14z"/>
<path fill="#e6f5eb" d="M164 37h14v1h-14zM83 48h13v1h-13zM69 50h14v1h-14zM96 73h14v1h-14zM15 74h14v1h-14zM56 74h13v1h-13zM124 91h13v1h-13zM42 92h14v1h-14zM83 96h13v1h-13zM83 126h13v1h-13zM69 145h14v1h-14zM151 172h13v1h-13zM164 172h14v1h-14zM178 190h13v1h-13zM83 204h13v1h-13zM110 211h14v1h-14zM110 215h14v1h-14zM178 222h13v1h-13zM205 222h13v1h-13zM83 232h13v1h-13zM96 270h14v1h-14zM151 278h13v1h-13zM164 284h14v1h-14zM164 290h14v1h-14zM42 291h14v1h-14zM151 291h13v1h-13zM56 305h13v1h-13zM29 336h13v1h-13zM83 340h13v1h-13zM83 365h13v1h-13zM15 371h14v1h-14z"/>
<path fill="#ebdcd2" d="M29 38h13v1h-13zM15 54h14v1h-14zM83 119h13v1h-13zM110 129h14v1h-14zM164 197h14v1h-14zM69 255h14v1h-14zM151 265h13v1h-13zM205 265h13v1h-13z"/>
<path fill="#ebfaeb" d="M69 38h14v1h-14zM124 48h13v1h-13zM83 74h13v1h-13zM96 113h14v1h-14zM69 139h14v1h-14zM151 147h13v1h-13zM151 148h13v1h-13zM69 160h14v1h-14zM56 195h13v1h-13zM83 196h13v1h-13zM56 200h13v1h-13zM83 200h13v1h-13zM205 200h13v1h-13zM83 206h13v1h-13zM151 206h13v1h-13zM110 207h14v1h-14zM42 217h14v1h-14zM15 233h14v1h-14zM83 233h13v1h-13zM164 260h14v1h-14zM29 339h13v1h-13z"/>
<path fill="#e6e1d2" d="M124 38h13v1h-13zM69 56h14v1h-14zM42 57h14v1h-14zM110 78h14v1h-14zM42 95h14v1h-14zM205 101h13v1h-13zM205 114h13v1h-13zM56 155h13v1h-13zM205 184h13v1h-13zM124 198h13v1h-13zM205 216h13v1h-13zM178 249h13v1h-13zM15 281h14v1h-14zM124 318h13v1h-13zM151 369h13v1h-13z"/>
<path fill="#fae1e1" d="M137 38h14v1h-14zM137 40h14v1h-14zM110 41h14v1h-14zM42 45h14v1h-14zM151 46h13v1h-13zM191 48h14v1h-14zM110 49h14v1h-14zM137 49h14v1h-14zM137 50h14v1h-14zM110 54h14v1h-14zM42 64h14v1h-14zM42 72h14v1h-14zM42 73h14v1h-14zM178 74h13v1h-13zM205 75h13v1h-13zM15 77h14v1h-14zM178 80h13v1h-13zM29 81h13v1h-13zM29 90h13v1h-13zM96 90h14v1h-14zM124 93h13v1h-13zM205 93h13v1h-13zM205 96h13v1h-13zM124 109h13v1h-13zM178 113h13v1h-13zM137 118h14v1h-14zM205 118h13v1h-13zM29 122h13v1h-13zM15 124h14v1h-14zM191 124h14v1h-14zM124 129h13v1h-13zM96 133h14v1h-14zM29 137h13v1h-13zM178 138h13v1h-13zM42 141h14v1h-14zM191 141h14v1h-14zM83 145h13v1h-13zM29 146h13v1h-13zM191 146h14v1h-14zM124 149h13v1h-13zM178 150h13v1h-13zM83 160h13v1h-13zM110 160h14v1h-14zM151 164h13v1h-13zM96 173h14v1h-14zM69 177h14v1h-14zM110 179h14v1h-14zM42 182h14v1h-14zM69 182h14v1h-14zM164 182h14v1h-14zM205 190h13v1h-13zM42 195h14v1h-14zM29 200h13v1h-13zM96 210h14v1h-14zM42 211h14v1h-14zM83 211h13v1h-13zM83 212h13v1h-13zM124 212h13v1h-13zM151 212h13v1h-13zM164 212h14v1h-14zM205 215h13v1h-13zM42 226h14v1h-14zM191 228h14v1h-14zM56 229h13v1h-13zM205 233h13v1h-13zM29 234h13v1h-13zM83 236h13v1h-13zM124 236h13v1h-13zM110 242h14v1h-14zM29 244h13v1h-13zM124 244h13v1h-13zM205 244h13v1h-13zM15 246h14v1h-14zM178 250h13v1h-13zM124 255h13v1h-13zM191 255h14v1h-14zM42 261h14v1h-14zM110 261h14v1h-14zM110 265h14v1h-14zM164 269h14v1h-14zM15 270h14v1h-14zM69 270h14v1h-14zM110 271h14v1h-14zM15 273h14v1h-14zM15 274h14v1h-14zM137 275h14v1h-14zM205 275h13v1h-13zM124 276h13v1h-13zM205 276h13v1h-13zM42 285h14v1h-14zM191 289h14v1h-14zM191 292h14v1h-14zM83 293h13v1h-13zM191 293h14v1h-14zM83 294h13v1h-13zM29 300h13v1h-13zM164 303h14v1h-14zM29 304h13v1h-13zM29 312h13v1h-13zM164 312h14v1h-14zM15 321h14v1h-14zM96 321h14v1h-14zM96 325h14v1h-14zM42 332h14v1h-14zM178 332h13v1h-13zM178 335h13v1h-13zM191 337h14v1h-14zM178 345h13v1h-13zM137 347h14v1h-14zM205 348h13v1h-13zM205 349h13v1h-13zM29 360h13v1h-13zM69 363h14v1h-14zM96 365h14v1h-14zM164 365h14v1h-14zM42 366h14v1h-14zM137 367h14v1h-14zM164 367h14v1h-14zM151 376h13v1h-13z"/>
<path fill="#f0ebe6" d="M42 39h14v1h-14zM124 50h13v1h-13zM124 54h13v1h-13zM110 90h14v1h-14zM29 93h13v1h-13zM96 191h14v1h-14zM137 207h14v1h-14zM42 213h14v1h-14zM56 223h13v1h-13zM191 227h14v1h-14zM151 232h13v1h-13zM164 240h14v1h-14zM29 269h13v1h-13zM42 281h14v1h-14zM110 292h14v1h-14zM69 331h14v1h-14zM83 360h13v1h-13zM96 360h14v1h-14zM96 367h14v1h-14zM151 371h13v1h-13z"/>
<path fill="#f5f0eb" d="M137 39h14v1h-14zM69 75h14v1h-14zM83 91h13v1h-13zM178 107h13v1h-13zM205 141h13v1h-13zM164 148h14v1h-14zM29 182h13v1h-13zM96 204h14v1h-14zM137 204h14v1h-14zM96 208h14v1h-14zM191 217h14v1h-14zM42 222h14v1h-14zM56 232h13v1h-13zM205 232h13v1h-13zM151 277h13v1h-13zM164 281h14v1h-14zM29 287h13v1h-13zM178 290h13v1h-13zM56 299h13v1h-13zM205 299h13v1h-13zM83 304h13v1h-13zM42 305h14v1h-14zM29 319h13v1h-13zM110 319h14v1h-14zM29 332h13v1h-13zM124 336h13v1h-13zM96 337h14v1h-14zM124 360h13v1h-13z"/>
<path fill="#f5ebe6" d="M191 39h14v1h-14zM178 49h13v1h-13zM191 64h14v1h-14zM83 141h13v1h-13zM15 244h14v1h-14zM178 244h13v1h-13zM56 287h13v1h-13zM124 335h13v1h-13zM56 352h13v1h-13zM15 368h14v1h-14z"/>
<path fill="#fad7dc" d="M151 40h13v1h-13zM191 63h14v1h-14zM205 94h13v1h-13zM178 105h13v1h-13zM29 110h13v1h-13zM191 128h14v1h-14zM110 131h14v1h-14zM137 148h14v1h-14zM137 162h14v1h-14zM178 162h13v1h-13zM178 174h13v1h-13zM110 178h14v1h-14zM110 181h14v1h-14zM137 190h14v1h-14zM137 215h14v1h-14zM124 216h13v1h-13zM137 216h14v1h-14zM29 233h13v1h-13zM191 239h14v1h-14zM191 252h14v1h-14zM15 265h14v1h-14zM124 265h13v1h-13zM151 267h13v1h-13zM178 268h13v1h-13zM110 269h14v1h-14zM124 277h13v1h-13zM110 310h14v1h-14zM191 325h14v1h-14zM96 333h14v1h-14zM96 334h14v1h-14zM164 345h14v1h-14zM191 345h14v1h-14zM29 349h13v1h-13zM42 355h14v1h-14zM15 357h14v1h-14zM42 357h14v1h-14z"/>
<path fill="#fac3c3" d="M191 40h14v1h-14zM151 45h13v1h-13zM191 53h14v1h-14zM137 59h14v1h-14zM178 65h13v1h-13zM178 79h13v1h-13zM42 84h14v1h-14zM83 84h13v1h-13zM96 86h14v1h-14zM110 86h14v1h-14zM178 88h13v1h-13zM151 89h13v1h-13zM178 97h13v1h-13zM96 109h14v1h-14zM110 109h14v1h-14zM15 110h14v1h-14zM164 110h14v1h-14zM191 112h14v1h-14zM164 118h14v1h-14zM69 121h14v1h-14zM191 122h14v1h-14zM191 127h14v1h-14zM191 129h14v1h-14zM42 132h14v1h-14zM83 132h13v1h-13zM15 142h14v1h-14zM15 144h14v1h-14zM42 144h14v1h-14zM191 162h14v1h-14zM124 175h13v1h-13zM42 178h14v1h-14zM69 178h14v1h-14zM164 181h14v1h-14zM83 183h13v1h-13zM15 184h14v1h-14zM164 186h14v1h-14zM164 187h14v1h-14zM151 189h13v1h-13zM15 201h14v1h-14zM110 201h14v1h-14zM29 202h13v1h-13zM110 229h14v1h-14zM110 231h14v1h-14zM191 240h14v1h-14zM15 241h14v1h-14zM29 241h13v1h-13zM96 242h14v1h-14zM110 250h14v1h-14zM164 252h14v1h-14zM29 257h13v1h-13zM110 258h14v1h-14zM42 259h14v1h-14zM151 263h13v1h-13zM29 265h13v1h-13zM69 269h14v1h-14zM69 279h14v1h-14zM42 282h14v1h-14zM191 285h14v1h-14zM191 286h14v1h-14zM29 296h13v1h-13zM110 301h14v1h-14zM137 302h14v1h-14zM164 302h14v1h-14zM178 308h13v1h-13zM42 313h14v1h-14zM137 314h14v1h-14zM96 315h14v1h-14zM124 316h13v1h-13zM124 317h13v1h-13zM151 317h13v1h-13zM178 320h13v1h-13zM164 324h14v1h-14zM191 329h14v1h-14zM69 348h14v1h-14zM164 350h14v1h-14zM83 359h13v1h-13zM205 359h13v1h-13zM178 361h13v1h-13zM29 369h13v1h-13zM191 374h14v1h-14zM124 375h13v1h-13zM137 376h14v1h-14zM29 377h13v1h-13zM191 377h14v1h-14z"/>
<path fill="#facdd2" d="M137 41h14v1h-14zM191 45h14v1h-14zM110 55h14v1h-14zM96 88h14v1h-14zM137 88h14v1h-14zM137 93h14v1h-14zM137 101h14v1h-14zM42 105h14v1h-14zM96 107h14v1h-14zM205 119h13v1h-13zM178 122h13v1h-13zM96 123h14v1h-14zM151 125h13v1h-13zM15 129h14v1h-14zM178 130h13v1h-13zM191 132h14v1h-14zM15 134h14v1h-14zM83 143h13v1h-13zM15 151h14v1h-14zM137 156h14v1h-14zM151 157h13v1h-13zM110 171h14v1h-14zM137 184h14v1h-14zM96 188h14v1h-14zM96 202h14v1h-14zM83 210h13v1h-13zM29 216h13v1h-13zM56 216h13v1h-13zM29 228h13v1h-13zM191 236h14v1h-14zM15 247h14v1h-14zM124 263h13v1h-13zM29 264h13v1h-13zM29 267h13v1h-13zM42 267h14v1h-14zM15 272h14v1h-14zM29 274h13v1h-13zM56 274h13v1h-13zM178 277h13v1h-13zM42 284h14v1h-14zM124 288h13v1h-13zM124 292h13v1h-13zM110 302h14v1h-14zM137 323h14v1h-14zM151 329h13v1h-13zM164 344h14v1h-14zM178 347h13v1h-13zM42 352h14v1h-14zM42 354h14v1h-14zM164 355h14v1h-14zM69 362h14v1h-14zM164 368h14v1h-14zM124 374h13v1h-13zM178 377h13v1h-13z"/>
<path fill="#e1f0e1" d="M96 42h14v1h-14zM191 54h14v1h-14zM110 62h14v1h-14zM191 72h14v1h-14zM69 74h14v1h-14zM151 79h13v1h-13zM83 81h13v1h-13zM69 83h14v1h-14zM15 87h14v1h-14zM56 122h13v1h-13zM110 124h14v1h-14zM69 150h14v1h-14zM29 166h13v1h-13zM69 166h14v1h-14zM137 166h14v1h-14zM124 169h13v1h-13zM42 173h14v1h-14zM191 173h14v1h-14zM137 234h14v1h-14zM164 236h14v1h-14zM137 238h14v1h-14zM56 245h13v1h-13zM83 249h13v1h-13zM83 267h13v1h-13zM151 270h13v1h-13zM191 272h14v1h-14zM96 273h14v1h-14zM42 275h14v1h-14zM137 286h14v1h-14zM124 295h13v1h-13zM15 312h14v1h-14zM83 312h13v1h-13zM29 318h13v1h-13zM42 326h14v1h-14zM124 326h13v1h-13zM56 332h13v1h-13zM42 335h14v1h-14zM15 340h14v1h-14zM15 369h14v1h-14z"/>
<path fill="#e6d2c8" d="M15 43h14v1h-14zM124 101h13v1h-13zM151 104h13v1h-13zM137 241h14v1h-14zM96 307h14v1h-14zM164 361h14v1h-14z"/>
<path fill="#fac8cd" d="M15 44h14v1h-14zM137 52h14v1h-14zM178 72h13v1h-13zM29 77h13v1h-13zM15 78h14v1h-14zM15 99h14v1h-14zM178 100h13v1h-13zM191 100h14v1h-14zM110 119h14v1h-14zM164 119h14v1h-14zM29 120h13v1h-13zM69 120h14v1h-14zM164 120h14v1h-14zM15 135h14v1h-14zM96 142h14v1h-14zM29 148h13v1h-13zM191 160h14v1h-14zM205 160h13v1h-13zM83 162h13v1h-13zM29 177h13v1h-13zM137 187h14v1h-14zM137 194h14v1h-14zM42 198h14v1h-14zM164 203h14v1h-14zM124 215h13v1h-13zM151 219h13v1h-13zM205 219h13v1h-13zM42 231h14v1h-14zM110 244h14v1h-14zM110 249h14v1h-14zM69 266h14v1h-14zM205 289h13v1h-13zM110 309h14v1h-14zM191 316h14v1h-14zM164 317h14v1h-14zM69 320h14v1h-14zM191 322h14v1h-14zM69 333h14v1h-14zM151 354h13v1h-13zM164 377h14v1h-14z"/>
<path fill="#fab9be" d="M178 44h13v1h-13zM137 45h14v1h-14zM178 54h13v1h-13zM178 64h13v1h-13zM15 70h14v1h-14zM42 110h14v1h-14zM178 118h13v1h-13zM15 120h14v1h-14zM178 147h13v1h-13zM15 179h14v1h-14zM96 193h14v1h-14zM110 227h14v1h-14zM15 228h14v1h-14zM110 238h14v1h-14zM15 254h14v1h-14zM69 256h14v1h-14zM178 279h13v1h-13zM29 294h13v1h-13zM69 295h14v1h-14zM56 298h13v1h-13zM110 311h14v1h-14zM205 316h13v1h-13zM137 317h14v1h-14zM137 320h14v1h-14zM151 342h13v1h-13zM124 348h13v1h-13zM124 351h13v1h-13zM110 361h14v1h-14z"/>
<path fill="#96d7a0" d="M164 45h14v1h-14zM15 308h14v1h-14z"/>
<path fill="#dcd7c8" d="M15 46h14v1h-14zM96 131h14v1h-14zM124 132h13v1h-13zM164 193h14v1h-14zM191 194h14v1h-14zM205 320h13v1h-13zM29 328h13v1h-13z"/>
<path fill="#fafafa" d="M29 47h13v1h-13zM124 47h13v1h-13zM137 47h14v1h-14zM124 61h13v1h-13zM69 82h14v1h-14zM110 82h14v1h-14zM124 82h13v1h-13zM151 82h13v1h-13zM164 82h14v1h-14zM15 106h14v1h-14zM69 106h14v1h-14zM83 106h13v1h-13zM42 115h14v1h-14zM178 180h13v1h-13zM56 205h13v1h-13zM69 205h14v1h-14zM96 205h14v1h-14zM151 205h13v1h-13zM164 221h14v1h-14zM178 221h13v1h-13zM137 224h14v1h-14zM151 224h13v1h-13zM164 224h14v1h-14zM56 225h13v1h-13zM83 225h13v1h-13zM96 225h14v1h-14zM124 225h13v1h-13zM137 225h14v1h-14zM151 225h13v1h-13zM164 225h14v1h-14zM56 235h13v1h-13zM137 235h14v1h-14zM151 251h13v1h-13zM205 261h13v1h-13zM110 339h14v1h-14zM42 341h14v1h-14zM96 341h14v1h-14zM137 341h14v1h-14z"/>
<path fill="#fffafa" d="M42 47h14v1h-14zM69 47h14v1h-14zM96 47h14v1h-14zM151 47h13v1h-13zM191 47h14v1h-14zM29 82h13v1h-13zM178 82h13v1h-13zM164 106h14v1h-14zM83 180h13v1h-13zM110 180h14v1h-14zM124 221h13v1h-13zM151 221h13v1h-13zM29 224h13v1h-13zM42 224h14v1h-14zM15 225h14v1h-14zM29 225h13v1h-13zM29 230h13v1h-13zM124 230h13v1h-13zM191 230h14v1h-14zM124 235h13v1h-13zM205 235h13v1h-13zM56 294h13v1h-13zM110 340h14v1h-14zM191 341h14v1h-14zM205 353h13v1h-13z"/>
<path fill="#f5faf5" d="M83 47h13v1h-13zM164 47h14v1h-14zM205 47h13v1h-13zM96 54h14v1h-14zM56 61h13v1h-13zM69 61h14v1h-14zM83 61h13v1h-13zM164 61h14v1h-14zM151 75h13v1h-13zM56 82h13v1h-13zM83 82h13v1h-13zM191 82h14v1h-14zM205 82h13v1h-13zM56 106h13v1h-13zM110 106h14v1h-14zM191 106h14v1h-14zM15 115h14v1h-14zM29 115h13v1h-13zM110 115h14v1h-14zM124 115h13v1h-13zM151 115h13v1h-13zM164 115h14v1h-14zM124 172h13v1h-13zM42 180h14v1h-14zM69 180h14v1h-14zM191 180h14v1h-14zM151 195h13v1h-13zM205 195h13v1h-13zM205 196h13v1h-13zM178 200h13v1h-13zM83 205h13v1h-13zM191 205h14v1h-14zM205 205h13v1h-13zM15 206h14v1h-14zM56 206h13v1h-13zM164 209h14v1h-14zM205 209h13v1h-13zM15 214h14v1h-14zM42 214h14v1h-14zM164 217h14v1h-14zM83 221h13v1h-13zM191 221h14v1h-14zM205 221h13v1h-13zM56 224h13v1h-13zM83 224h13v1h-13zM178 224h13v1h-13zM191 224h14v1h-14zM205 224h13v1h-13zM69 225h14v1h-14zM178 225h13v1h-13zM205 225h13v1h-13zM137 230h14v1h-14zM178 230h13v1h-13zM15 235h14v1h-14zM69 235h14v1h-14zM164 239h14v1h-14zM191 242h14v1h-14zM124 251h13v1h-13zM137 251h14v1h-14zM164 251h14v1h-14zM83 260h13v1h-13zM191 260h14v1h-14zM205 260h13v1h-13zM151 261h13v1h-13zM191 261h14v1h-14zM151 286h13v1h-13zM110 288h14v1h-14zM205 304h13v1h-13zM29 331h13v1h-13zM205 336h13v1h-13zM15 341h14v1h-14zM29 341h13v1h-13zM56 341h13v1h-13zM69 341h14v1h-14zM83 341h13v1h-13zM15 353h14v1h-14zM69 353h14v1h-14zM83 353h13v1h-13zM15 372h14v1h-14zM164 372h14v1h-14z"/>
<path fill="#fff5f5" d="M110 47h14v1h-14zM178 47h13v1h-13zM42 75h14v1h-14zM83 75h13v1h-13zM42 80h14v1h-14zM15 82h14v1h-14zM42 82h14v1h-14zM137 82h14v1h-14zM29 106h13v1h-13zM42 106h14v1h-14zM96 106h14v1h-14zM124 106h13v1h-13zM137 106h14v1h-14zM137 115h14v1h-14zM137 116h14v1h-14zM124 117h13v1h-13zM96 180h14v1h-14zM151 180h13v1h-13zM164 195h14v1h-14zM15 205h14v1h-14zM29 205h13v1h-13zM124 205h13v1h-13zM164 205h14v1h-14zM178 205h13v1h-13zM29 206h13v1h-13zM124 206h13v1h-13zM178 206h13v1h-13zM124 207h13v1h-13zM83 208h13v1h-13zM29 209h13v1h-13zM83 209h13v1h-13zM96 209h14v1h-14zM124 209h13v1h-13zM56 214h13v1h-13zM178 217h13v1h-13zM15 221h14v1h-14zM29 221h13v1h-13zM56 221h13v1h-13zM15 224h14v1h-14zM42 225h14v1h-14zM15 230h14v1h-14zM42 230h14v1h-14zM56 230h13v1h-13zM110 230h14v1h-14zM164 230h14v1h-14zM205 230h13v1h-13zM29 235h13v1h-13zM83 235h13v1h-13zM191 235h14v1h-14zM205 242h13v1h-13zM83 251h13v1h-13zM110 251h14v1h-14zM205 251h13v1h-13zM124 260h13v1h-13zM205 288h13v1h-13zM110 290h14v1h-14zM191 291h14v1h-14zM110 336h14v1h-14zM151 341h13v1h-13zM164 341h14v1h-14zM42 353h14v1h-14zM110 353h14v1h-14zM124 353h13v1h-13zM137 353h14v1h-14zM151 353h13v1h-13zM110 372h14v1h-14zM137 372h14v1h-14zM151 372h13v1h-13z"/>
<path fill="#faf5f5" d="M42 48h14v1h-14zM56 180h13v1h-13zM137 180h14v1h-14zM151 200h13v1h-13zM42 223h14v1h-14zM29 286h13v1h-13z"/>
<path fill="#ffe6e6" d="M69 48h14v1h-14zM110 48h14v1h-14zM178 48h13v1h-13zM124 55h13v1h-13zM42 62h14v1h-14zM42 63h14v1h-14zM178 69h13v1h-13zM178 75h13v1h-13zM42 79h14v1h-14zM69 80h14v1h-14zM15 81h14v1h-14zM178 81h13v1h-13zM15 83h14v1h-14zM42 83h14v1h-14zM164 105h14v1h-14zM29 107h13v1h-13zM164 107h14v1h-14zM137 114h14v1h-14zM56 117h13v1h-13zM205 117h13v1h-13zM124 122h13v1h-13zM205 122h13v1h-13zM151 124h13v1h-13zM164 124h14v1h-14zM205 124h13v1h-13zM137 150h14v1h-14zM56 172h13v1h-13zM178 173h13v1h-13zM15 180h14v1h-14zM96 182h14v1h-14zM205 191h13v1h-13zM42 196h14v1h-14zM96 197h14v1h-14zM15 200h14v1h-14zM124 200h13v1h-13zM124 204h13v1h-13zM178 204h13v1h-13zM178 207h13v1h-13zM191 207h14v1h-14zM151 208h13v1h-13zM15 227h14v1h-14zM124 231h13v1h-13zM191 232h14v1h-14zM124 234h13v1h-13zM205 234h13v1h-13zM29 251h13v1h-13zM15 261h14v1h-14zM137 267h14v1h-14zM178 270h13v1h-13zM83 274h13v1h-13zM164 275h14v1h-14zM56 276h13v1h-13zM69 276h14v1h-14zM191 278h14v1h-14zM110 284h14v1h-14zM29 285h13v1h-13zM15 286h14v1h-14zM42 286h14v1h-14zM96 286h14v1h-14zM42 287h14v1h-14zM191 290h14v1h-14zM69 291h14v1h-14zM205 292h13v1h-13zM191 304h14v1h-14zM110 305h14v1h-14zM42 312h14v1h-14zM151 312h13v1h-13zM151 325h13v1h-13zM151 326h13v1h-13zM83 332h13v1h-13zM137 337h14v1h-14zM178 337h13v1h-13zM96 338h14v1h-14zM151 344h13v1h-13zM191 347h14v1h-14zM205 351h13v1h-13zM178 360h13v1h-13zM69 365h14v1h-14zM69 367h14v1h-14zM178 371h13v1h-13zM151 377h13v1h-13z"/>
<path fill="#f0f0e6" d="M137 48h14v1h-14zM42 67h14v1h-14zM124 90h13v1h-13zM15 116h14v1h-14zM178 137h13v1h-13zM178 146h13v1h-13zM164 177h14v1h-14zM56 190h13v1h-13zM15 213h14v1h-14zM164 214h14v1h-14zM110 217h14v1h-14zM191 244h14v1h-14zM56 248h13v1h-13zM178 265h13v1h-13zM42 274h14v1h-14zM96 285h14v1h-14zM96 287h14v1h-14zM191 294h14v1h-14zM191 296h14v1h-14zM178 312h13v1h-13zM96 326h14v1h-14zM83 354h13v1h-13zM178 354h13v1h-13z"/>
<path fill="#f5e6e1" d="M151 49h13v1h-13zM15 86h14v1h-14zM124 96h13v1h-13zM124 150h13v1h-13zM110 281h14v1h-14z"/>
<path fill="#f5f0f0" d="M96 50h14v1h-14zM29 87h13v1h-13zM137 92h14v1h-14zM42 113h14v1h-14zM205 340h13v1h-13z"/>
<path fill="#d7b4a0" d="M56 51h13v1h-13zM56 110h13v1h-13z"/>
<path fill="#f0f5eb" d="M96 51h14v1h-14zM137 218h14v1h-14zM29 242h13v1h-13zM205 290h13v1h-13zM191 351h14v1h-14z"/>
<path fill="#e6beb4" d="M178 51h13v1h-13z"/>
<path fill="#f0696e" d="M29 52h13v1h-13zM205 168h13v1h-13zM69 298h14v1h-14z"/>
<path fill="#fab4b9" d="M124 52h13v1h-13zM191 58h14v1h-14zM178 71h13v1h-13zM164 89h14v1h-14zM178 94h13v1h-13zM151 99h13v1h-13zM164 100h14v1h-14zM96 105h14v1h-14zM191 114h14v1h-14zM178 120h13v1h-13zM15 202h14v1h-14zM42 246h14v1h-14zM110 247h14v1h-14zM42 255h14v1h-14zM69 272h14v1h-14zM29 280h13v1h-13zM137 309h14v1h-14zM205 317h13v1h-13zM205 342h13v1h-13zM137 362h14v1h-14zM191 375h14v1h-14z"/>
<path fill="#e1e6d7" d="M124 53h13v1h-13zM205 104h13v1h-13zM137 278h14v1h-14zM164 328h14v1h-14z"/>
<path fill="#f5a0a0" d="M178 53h13v1h-13zM15 59h14v1h-14zM137 94h14v1h-14zM29 100h13v1h-13zM29 101h13v1h-13zM29 104h13v1h-13zM96 110h14v1h-14zM178 127h13v1h-13zM29 129h13v1h-13zM178 142h13v1h-13zM178 148h13v1h-13zM191 169h14v1h-14zM42 183h14v1h-14zM42 189h14v1h-14zM151 227h13v1h-13zM110 241h14v1h-14zM42 263h14v1h-14zM56 273h13v1h-13z"/>
<path fill="#f59191" d="M205 53h13v1h-13zM178 98h13v1h-13zM42 101h14v1h-14zM29 151h13v1h-13zM178 154h13v1h-13zM29 199h13v1h-13zM42 203h14v1h-14z"/>
<path fill="#faafaf" d="M15 55h14v1h-14zM15 56h14v1h-14zM15 57h14v1h-14zM178 57h13v1h-13zM29 60h13v1h-13zM178 70h13v1h-13zM178 76h13v1h-13zM178 86h13v1h-13zM15 101h14v1h-14zM29 103h13v1h-13zM110 108h14v1h-14zM29 134h13v1h-13zM15 138h14v1h-14zM205 147h13v1h-13zM151 156h13v1h-13zM29 178h13v1h-13zM151 183h13v1h-13zM151 188h13v1h-13zM15 199h14v1h-14zM191 237h14v1h-14zM96 239h14v1h-14zM96 250h14v1h-14zM15 253h14v1h-14zM29 258h13v1h-13zM56 272h13v1h-13zM29 303h13v1h-13zM164 306h14v1h-14zM137 316h14v1h-14zM164 329h14v1h-14zM29 362h13v1h-13z"/>
<path fill="#afe1af" d="M56 55h13v1h-13zM178 203h13v1h-13zM205 361h13v1h-13z"/>
<path fill="#f57378" d="M205 57h13v1h-13zM205 68h13v1h-13z"/>
<path fill="#f05055" d="M15 58h14v1h-14zM191 149h14v1h-14zM96 256h14v1h-14z"/>
<path fill="#8c6e32" d="M205 58h13v1h-13z"/>
<path fill="#c8b49b" d="M205 59h13v1h-13zM205 171h13v1h-13z"/>
<path fill="#ebe6d7" d="M42 60h14v1h-14z"/>
<path fill="#d2d2b9" d="M56 60h13v1h-13zM124 104h13v1h-13zM110 159h14v1h-14zM96 183h14v1h-14zM191 220h14v1h-14z"/>
<path fill="#d2cdb9" d="M69 60h14v1h-14zM83 134h13v1h-13z"/>
<path fill="#f0dcd2" d="M96 60h14v1h-14z"/>
<path fill="#e1d2c3" d="M137 60h14v1h-14zM15 220h14v1h-14zM191 256h14v1h-14zM96 264h14v1h-14zM96 282h14v1h-14zM56 301h13v1h-13zM110 317h14v1h-14z"/>
<path fill="#f58282" d="M178 60h13v1h-13zM191 111h14v1h-14zM178 112h13v1h-13zM42 140h14v1h-14zM178 152h13v1h-13zM205 155h13v1h-13zM205 156h13v1h-13zM205 161h13v1h-13zM205 170h13v1h-13zM96 246h14v1h-14zM69 273h14v1h-14zM29 302h13v1h-13zM96 350h14v1h-14z"/>
<path fill="#a08c5f" d="M205 60h13v1h-13z"/>
<path fill="#faf5f0" d="M137 61h14v1h-14zM124 180h13v1h-13zM191 195h14v1h-14zM137 196h14v1h-14zM164 232h14v1h-14zM124 261h13v1h-13zM178 299h13v1h-13zM137 340h14v1h-14zM205 372h13v1h-13z"/>
<path fill="#fafaf5" d="M191 61h14v1h-14zM96 82h14v1h-14zM69 115h14v1h-14zM56 134h13v1h-13zM29 180h13v1h-13zM110 182h14v1h-14zM29 195h13v1h-13zM110 205h14v1h-14zM137 205h14v1h-14zM15 209h14v1h-14zM191 251h14v1h-14zM178 300h13v1h-13zM178 341h13v1h-13zM205 341h13v1h-13zM29 353h13v1h-13z"/>
<path fill="#e1dccd" d="M96 62h14v1h-14zM29 94h13v1h-13zM15 105h14v1h-14zM96 170h14v1h-14zM56 173h13v1h-13zM191 177h14v1h-14zM56 183h13v1h-13zM124 240h13v1h-13zM110 315h14v1h-14zM178 322h13v1h-13zM96 370h14v1h-14zM178 373h13v1h-13z"/>
<path fill="#f5878c" d="M29 63h13v1h-13zM205 64h13v1h-13zM137 98h14v1h-14zM191 161h14v1h-14zM205 165h13v1h-13zM137 176h14v1h-14z"/>
<path fill="#ebdcd7" d="M83 63h13v1h-13zM110 118h14v1h-14zM29 237h13v1h-13z"/>
<path fill="#f5bebe" d="M205 63h13v1h-13z"/>
<path fill="#f57d82" d="M29 64h13v1h-13zM178 77h13v1h-13zM29 131h13v1h-13zM42 151h14v1h-14zM178 161h13v1h-13zM96 237h14v1h-14zM96 240h14v1h-14zM96 247h14v1h-14zM42 262h14v1h-14zM191 307h14v1h-14zM205 356h13v1h-13z"/>
<path fill="#f05f64" d="M29 65h13v1h-13zM69 356h14v1h-14z"/>
<path fill="#dcd2be" d="M96 65h14v1h-14zM29 140h13v1h-13zM29 142h13v1h-13zM56 157h13v1h-13zM191 350h14v1h-14z"/>
<path fill="#ebd7cd" d="M191 65h14v1h-14zM96 129h14v1h-14zM191 198h14v1h-14zM56 269h13v1h-13zM124 329h13v1h-13z"/>
<path fill="#f0555a" d="M205 65h13v1h-13zM29 66h13v1h-13zM96 252h14v1h-14z"/>
<path fill="#d2cdb4" d="M15 66h14v1h-14z"/>
<path fill="#afdcaf" d="M137 66h14v1h-14zM124 78h13v1h-13zM15 171h14v1h-14zM205 189h13v1h-13zM205 279h13v1h-13zM15 309h14v1h-14z"/>
<path fill="#e6dcd2" d="M191 66h14v1h-14zM96 101h14v1h-14zM42 125h14v1h-14zM110 130h14v1h-14zM178 145h13v1h-13zM83 177h13v1h-13zM164 188h14v1h-14zM110 218h14v1h-14zM205 256h13v1h-13zM96 277h14v1h-14zM205 319h13v1h-13zM178 356h13v1h-13zM124 361h13v1h-13z"/>
<path fill="#f03c3c" d="M205 66h13v1h-13z"/>
<path fill="#cdc8af" d="M15 68h14v1h-14zM205 151h13v1h-13z"/>
<path fill="#c39b7d" d="M29 68h13v1h-13z"/>
<path fill="#faa5aa" d="M205 69h13v1h-13z"/>
<path fill="#bebe9b" d="M29 70h13v1h-13z"/>
<path fill="#d2c8b4" d="M151 70h13v1h-13zM56 125h13v1h-13zM164 152h14v1h-14zM164 316h14v1h-14z"/>
<path fill="#eb1e23" d="M205 70h13v1h-13z"/>
<path fill="#f0e6dc" d="M15 71h14v1h-14zM151 76h13v1h-13zM56 101h13v1h-13zM151 110h13v1h-13zM83 155h13v1h-13zM29 185h13v1h-13zM178 220h13v1h-13zM96 226h14v1h-14zM124 237h13v1h-13zM15 249h14v1h-14zM124 328h13v1h-13zM69 349h14v1h-14z"/>
<path fill="#f06e6e" d="M205 71h13v1h-13zM205 152h13v1h-13zM178 165h13v1h-13zM96 249h14v1h-14z"/>
<path fill="#e1e1d2" d="M151 73h13v1h-13zM151 77h13v1h-13zM42 127h14v1h-14zM29 197h13v1h-13zM15 238h14v1h-14zM205 333h13v1h-13zM178 367h13v1h-13z"/>
<path fill="#f07378" d="M205 73h13v1h-13z"/>
<path fill="#f5f5f0" d="M137 74h14v1h-14zM42 76h14v1h-14zM191 91h14v1h-14zM151 107h13v1h-13zM164 117h14v1h-14zM42 126h14v1h-14zM137 126h14v1h-14zM110 200h14v1h-14zM42 205h14v1h-14zM191 206h14v1h-14zM56 209h13v1h-13zM151 223h13v1h-13zM205 297h13v1h-13zM42 300h14v1h-14zM42 363h14v1h-14zM178 372h13v1h-13z"/>
<path fill="#faf0f0" d="M191 74h14v1h-14zM137 222h14v1h-14zM178 223h13v1h-13zM15 291h14v1h-14zM110 370h14v1h-14z"/>
<path fill="#fff0f5" d="M29 75h13v1h-13zM96 150h14v1h-14zM164 180h14v1h-14zM137 209h14v1h-14zM29 211h13v1h-13zM151 340h13v1h-13z"/>
<path fill="#fadce1" d="M96 77h14v1h-14zM15 79h14v1h-14zM178 84h13v1h-13zM178 90h13v1h-13zM83 93h13v1h-13zM110 234h14v1h-14zM205 240h13v1h-13zM69 275h14v1h-14zM124 290h13v1h-13zM69 292h14v1h-14zM137 292h14v1h-14zM124 293h13v1h-13zM56 295h13v1h-13zM56 297h13v1h-13zM96 309h14v1h-14zM191 324h14v1h-14zM191 326h14v1h-14zM137 338h14v1h-14zM151 359h13v1h-13zM151 360h13v1h-13zM205 371h13v1h-13zM151 374h13v1h-13z"/>
<path fill="#f5aaaa" d="M205 77h13v1h-13zM151 88h13v1h-13zM151 98h13v1h-13zM178 104h13v1h-13zM178 111h13v1h-13zM191 159h14v1h-14zM178 170h13v1h-13zM29 189h13v1h-13zM96 258h14v1h-14zM110 259h14v1h-14zM56 271h13v1h-13zM96 317h14v1h-14z"/>
<path fill="#dcd7c3" d="M29 78h13v1h-13zM137 125h14v1h-14zM96 322h14v1h-14z"/>
<path fill="#d7c8b4" d="M69 78h14v1h-14zM110 314h14v1h-14z"/>
<path fill="#f59696" d="M205 78h13v1h-13zM15 102h14v1h-14zM191 118h14v1h-14zM42 147h14v1h-14zM205 166h13v1h-13zM96 233h14v1h-14zM110 245h14v1h-14z"/>
<path fill="#e6ebdc" d="M83 79h13v1h-13zM151 109h13v1h-13zM151 123h13v1h-13zM164 147h14v1h-14z"/>
<path fill="#f5fafa" d="M56 80h13v1h-13zM178 106h13v1h-13zM96 206h14v1h-14zM191 225h14v1h-14zM83 230h13v1h-13zM164 235h14v1h-14z"/>
<path fill="#ebfaf0" d="M151 80h13v1h-13zM205 81h13v1h-13zM151 83h13v1h-13zM42 91h14v1h-14zM29 116h13v1h-13zM42 117h14v1h-14zM96 117h14v1h-14zM83 139h13v1h-13zM56 204h13v1h-13zM137 206h14v1h-14zM110 208h14v1h-14zM164 213h14v1h-14zM96 214h14v1h-14zM83 222h13v1h-13zM164 222h14v1h-14zM178 232h13v1h-13zM137 261h14v1h-14zM15 276h14v1h-14zM15 327h14v1h-14zM110 331h14v1h-14zM42 340h14v1h-14z"/>
<path fill="#f0e6e1" d="M124 81h13v1h-13zM137 90h14v1h-14zM151 97h13v1h-13zM205 108h13v1h-13zM151 141h13v1h-13zM15 145h14v1h-14zM56 145h13v1h-13zM56 147h13v1h-13zM83 147h13v1h-13zM110 147h14v1h-14zM110 216h14v1h-14zM191 216h14v1h-14zM137 220h14v1h-14zM29 246h13v1h-13zM178 246h13v1h-13zM124 287h13v1h-13zM178 287h13v1h-13zM205 287h13v1h-13zM42 325h14v1h-14zM205 335h13v1h-13zM96 363h14v1h-14zM191 367h14v1h-14z"/>
<path fill="#ffe6eb" d="M137 81h14v1h-14zM137 113h14v1h-14zM29 136h13v1h-13zM191 136h14v1h-14zM191 145h14v1h-14zM151 185h13v1h-13zM164 243h14v1h-14zM124 275h13v1h-13zM178 276h13v1h-13zM29 278h13v1h-13zM137 299h14v1h-14zM191 336h14v1h-14zM137 339h14v1h-14zM205 345h13v1h-13zM151 347h13v1h-13zM164 363h14v1h-14z"/>
<path fill="#f0f0eb" d="M191 81h14v1h-14zM205 87h13v1h-13zM205 113h13v1h-13zM96 216h14v1h-14zM83 286h13v1h-13zM96 290h14v1h-14zM205 295h13v1h-13zM110 299h14v1h-14zM110 332h14v1h-14zM110 360h14v1h-14zM96 372h14v1h-14z"/>
<path fill="#cdcdb4" d="M96 85h14v1h-14z"/>
<path fill="#dcc3b4" d="M137 85h14v1h-14z"/>
<path fill="#fae1dc" d="M42 89h14v1h-14zM96 232h14v1h-14z"/>
<path fill="#f0faf5" d="M137 91h14v1h-14zM15 92h14v1h-14zM83 115h13v1h-13zM96 115h14v1h-14zM42 116h14v1h-14zM83 195h13v1h-13zM191 209h14v1h-14zM137 232h14v1h-14zM56 251h13v1h-13zM191 300h14v1h-14zM151 331h13v1h-13zM164 353h14v1h-14zM178 353h13v1h-13z"/>
<path fill="#f0f5f0" d="M83 92h13v1h-13z"/>
<path fill="#e1e6d2" d="M96 94h14v1h-14z"/>
<path fill="#e6e1d7" d="M191 94h14v1h-14zM110 96h14v1h-14zM56 168h13v1h-13zM83 234h13v1h-13zM191 373h14v1h-14z"/>
<path fill="#e6e6dc" d="M69 97h14v1h-14zM15 133h14v1h-14zM96 198h14v1h-14zM42 207h14v1h-14zM151 272h13v1h-13zM151 345h13v1h-13zM151 373h13v1h-13z"/>
<path fill="#dcdcc8" d="M42 98h14v1h-14zM96 111h14v1h-14zM164 133h14v1h-14zM178 177h13v1h-13zM137 203h14v1h-14zM15 263h14v1h-14zM151 266h13v1h-13zM151 324h13v1h-13z"/>
<path fill="#e6dccd" d="M205 98h13v1h-13zM178 166h13v1h-13zM137 181h14v1h-14zM191 193h14v1h-14z"/>
<path fill="#c3be9b" d="M42 99h14v1h-14z"/>
<path fill="#cdbeaa" d="M42 100h14v1h-14z"/>
<path fill="#e6d7cd" d="M151 100h13v1h-13zM178 210h13v1h-13zM69 249h14v1h-14zM124 252h13v1h-13zM69 303h14v1h-14zM110 334h14v1h-14z"/>
<path fill="#f06464" d="M29 102h13v1h-13zM96 248h14v1h-14z"/>
<path fill="#ebd2c8" d="M124 102h13v1h-13zM110 134h14v1h-14z"/>
<path fill="#d2c3af" d="M164 102h14v1h-14zM96 156h14v1h-14zM164 356h14v1h-14z"/>
<path fill="#f06469" d="M15 104h14v1h-14zM205 167h13v1h-13z"/>
<path fill="#dccdb9" d="M191 104h14v1h-14zM164 245h14v1h-14zM124 262h13v1h-13zM205 321h13v1h-13zM69 350h14v1h-14z"/>
<path fill="#fafffa" d="M151 106h13v1h-13zM151 136h13v1h-13zM42 221h14v1h-14zM137 221h14v1h-14zM96 224h14v1h-14zM124 224h13v1h-13zM69 230h14v1h-14zM96 230h14v1h-14zM151 235h13v1h-13zM178 235h13v1h-13zM178 260h13v1h-13zM110 341h14v1h-14zM124 341h13v1h-13zM56 353h13v1h-13z"/>
<path fill="#e6e6d7" d="M15 108h14v1h-14zM56 124h13v1h-13zM15 212h14v1h-14zM15 245h14v1h-14zM83 273h13v1h-13zM178 281h13v1h-13zM191 321h14v1h-14zM42 333h14v1h-14zM137 354h14v1h-14z"/>
<path fill="#ebebe6" d="M15 109h14v1h-14zM137 287h14v1h-14z"/>
<path fill="#a5dca5" d="M42 119h14v1h-14zM124 163h13v1h-13zM69 183h14v1h-14zM56 247h13v1h-13z"/>
<path fill="#d7dcc8" d="M56 119h13v1h-13zM69 254h14v1h-14z"/>
<path fill="#f0d7d2" d="M96 119h14v1h-14zM96 187h14v1h-14zM110 266h14v1h-14zM178 316h13v1h-13z"/>
<path fill="#d7e1cd" d="M137 119h14v1h-14z"/>
<path fill="#e6cdc3" d="M69 127h14v1h-14z"/>
<path fill="#e1dcd2" d="M137 129h14v1h-14zM83 174h13v1h-13zM178 368h13v1h-13z"/>
<path fill="#d2d2be" d="M124 131h13v1h-13zM83 282h13v1h-13z"/>
<path fill="#f0ebe1" d="M42 133h14v1h-14zM83 137h13v1h-13zM205 174h13v1h-13zM15 240h14v1h-14zM83 242h13v1h-13zM15 287h14v1h-14zM83 287h13v1h-13zM42 290h14v1h-14zM83 299h13v1h-13zM42 327h14v1h-14zM29 335h13v1h-13zM205 337h13v1h-13zM205 338h13v1h-13z"/>
<path fill="#e1c8be" d="M124 134h13v1h-13z"/>
<path fill="#e1c8b9" d="M83 138h13v1h-13zM69 358h14v1h-14z"/>
<path fill="#dce1cd" d="M56 141h13v1h-13zM151 177h13v1h-13zM178 202h13v1h-13zM96 369h14v1h-14z"/>
<path fill="#aaa073" d="M178 143h13v1h-13z"/>
<path fill="#f5e6e6" d="M29 145h13v1h-13z"/>
<path fill="#f5f0e6" d="M56 148h13v1h-13zM205 217h13v1h-13z"/>
<path fill="#f06e73" d="M42 152h14v1h-14zM110 248h14v1h-14z"/>
<path fill="#becdaa" d="M191 154h14v1h-14z"/>
<path fill="#e6d7c8" d="M42 155h14v1h-14zM29 305h13v1h-13zM191 315h14v1h-14zM42 316h14v1h-14zM42 328h14v1h-14zM191 342h14v1h-14zM151 349h13v1h-13z"/>
<path fill="#c8b9a0" d="M178 155h13v1h-13zM29 376h13v1h-13z"/>
<path fill="#f58c91" d="M191 156h14v1h-14zM96 254h14v1h-14zM110 257h14v1h-14z"/>
<path fill="#a0be87" d="M191 157h14v1h-14z"/>
<path fill="#d7aa96" d="M178 158h13v1h-13z"/>
<path fill="#f0d7cd" d="M191 158h14v1h-14z"/>
<path fill="#e1beaf" d="M178 159h13v1h-13zM15 280h14v1h-14z"/>
<path fill="#d7d2be" d="M69 163h14v1h-14zM110 280h14v1h-14z"/>
<path fill="#e1c3b4" d="M69 164h14v1h-14z"/>
<path fill="#ebf0e6" d="M110 169h14v1h-14zM164 241h14v1h-14z"/>
<path fill="#c3b496" d="M205 169h13v1h-13z"/>
<path fill="#87cd8c" d="M42 171h14v1h-14z"/>
<path fill="#ffebf0" d="M110 173h14v1h-14zM164 207h14v1h-14zM124 217h13v1h-13zM29 261h13v1h-13zM151 304h13v1h-13zM191 312h14v1h-14z"/>
<path fill="#cda087" d="M29 175h13v1h-13z"/>
<path fill="#dcc8b9" d="M191 175h14v1h-14z"/>
<path fill="#5fbe69" d="M15 176h14v1h-14z"/>
<path fill="#f58787" d="M29 176h13v1h-13zM42 199h14v1h-14z"/>
<path fill="#cdc3aa" d="M15 177h14v1h-14z"/>
<path fill="#e1d2be" d="M42 177h14v1h-14z"/>
<path fill="#c8cdb4" d="M56 177h13v1h-13z"/>
<path fill="#f0dcd7" d="M69 179h14v1h-14zM56 215h13v1h-13zM96 215h14v1h-14zM110 278h14v1h-14zM42 301h14v1h-14z"/>
<path fill="#afdcb4" d="M83 186h13v1h-13z"/>
<path fill="#dcc8b4" d="M191 186h14v1h-14zM205 220h13v1h-13zM137 356h14v1h-14z"/>
<path fill="#f0d2cd" d="M124 189h13v1h-13zM124 356h13v1h-13z"/>
<path fill="#d2bea5" d="M164 189h14v1h-14z"/>
<path fill="#c3c3a5" d="M191 192h14v1h-14z"/>
<path fill="#dccdbe" d="M124 193h13v1h-13zM137 219h14v1h-14zM42 296h14v1h-14zM15 359h14v1h-14z"/>
<path fill="#d7d7c3" d="M137 193h14v1h-14zM178 248h13v1h-13zM29 317h13v1h-13zM29 329h13v1h-13zM110 354h14v1h-14z"/>
<path fill="#fff5fa" d="M96 195h14v1h-14zM96 221h14v1h-14zM42 235h14v1h-14z"/>
<path fill="#cdd2b4" d="M29 198h13v1h-13z"/>
<path fill="#d7beaa" d="M124 199h13v1h-13zM15 203h14v1h-14zM164 375h14v1h-14z"/>
<path fill="#ebbeb9" d="M69 220h14v1h-14z"/>
<path fill="#e1ebdc" d="M15 231h14v1h-14zM96 283h14v1h-14z"/>
<path fill="#d2e1c8" d="M151 231h13v1h-13z"/>
<path fill="#f05a5f" d="M96 241h14v1h-14z"/>
<path fill="#f0373c" d="M96 245h14v1h-14z"/>
<path fill="#dce6d2" d="M164 254h14v1h-14zM83 369h13v1h-13z"/>
<path fill="#faf0eb" d="M205 254h13v1h-13zM110 312h14v1h-14z"/>
<path fill="#f04b50" d="M15 257h14v1h-14z"/>
<path fill="#dce1d2" d="M124 266h13v1h-13zM164 366h14v1h-14z"/>
<path fill="#e6ebe1" d="M42 269h14v1h-14zM164 299h14v1h-14z"/>
<path fill="#e1f0dc" d="M42 272h14v1h-14z"/>
<path fill="#faebe6" d="M191 276h14v1h-14zM15 358h14v1h-14z"/>
<path fill="#e6d2c3" d="M124 280h13v1h-13z"/>
<path fill="#ebe6e1" d="M96 284h14v1h-14z"/>
<path fill="#f5f5eb" d="M205 291h13v1h-13z"/>
<path fill="#ebcdc3" d="M42 293h14v1h-14z"/>
<path fill="#d2e6cd" d="M15 297h14v1h-14z"/>
<path fill="#d7d2b9" d="M42 297h14v1h-14z"/>
<path fill="#c8c3a5" d="M15 298h14v1h-14z"/>
<path fill="#e6f0e1" d="M15 305h14v1h-14z"/>
<path fill="#d2e1cd" d="M69 305h14v1h-14z"/>
<path fill="#d7cdb9" d="M96 308h14v1h-14zM124 320h13v1h-13z"/>
<path fill="#d2a591" d="M191 308h14v1h-14z"/>
<path fill="#f5c8c8" d="M83 311h13v1h-13z"/>
<path fill="#e6c8b9" d="M164 313h14v1h-14z"/>
<path fill="#e1d2c8" d="M29 316h13v1h-13z"/>
<path fill="#c8bea0" d="M42 320h14v1h-14z"/>
<path fill="#d2beaa" d="M96 323h14v1h-14z"/>
<path fill="#f5e1e1" d="M29 327h13v1h-13z"/>
<path fill="#e1e1cd" d="M83 330h13v1h-13zM137 357h14v1h-14z"/>
<path fill="#64c36e" d="M29 343h13v1h-13z"/>
<path fill="#8cd296" d="M83 343h13v1h-13z"/>
<path fill="#f0e1d7" d="M69 347h14v1h-14z"/>
<path fill="#e6cdbe" d="M96 354h14v1h-14z"/>
<path fill="#b9be9b" d="M110 356h14v1h-14z"/>
<path fill="#beb491" d="M137 361h14v1h-14z"/>
<path fill="#f5e1dc" d="M110 366h14v1h-14z"/>
<path fill="#ebe1d2" d="M205 373h13v1h-13z"/>
</g>
<text x="5.60" y="9.90" font-size="9.2" text-anchor="start" >A</text>
<rect x="15.00" y="10.9" width="41.00" height="7.1" fill="#F8766D"/>
<rect x="55.70" y="10.9" width="41.00" height="7.1" fill="#A3A500"/>
<rect x="96.40" y="10.9" width="41.00" height="7.1" fill="#C77CC4"/>
<rect x="137.10" y="10.9" width="41.00" height="7.1" fill="#1DAE78"/>
<rect x="177.80" y="10.9" width="41.00" height="7.1" fill="#1EAEE6"/>
<rect x="6" y="19.80" width="6.9" height="61.09" fill="#5BC4B8"/>
<rect x="6" y="80.69" width="6.9" height="52.61" fill="#F4EFA6"/>
<rect x="6" y="133.10" width="6.9" height="44.14" fill="#BBB5D8"/>
<rect x="6" y="177.04" width="6.9" height="43.61" fill="#F47B6C"/>
<rect x="6" y="220.46" width="6.9" height="43.61" fill="#60A3CA"/>
<rect x="6" y="263.87" width="6.9" height="39.91" fill="#F8A85C"/>
<rect x="6" y="303.58" width="6.9" height="33.55" fill="#9BD069"/>
<rect x="6" y="336.93" width="6.9" height="24.02" fill="#F9C6DA"/>
<rect x="6" y="360.76" width="6.9" height="7.61" fill="#B57DB8"/>
<rect x="6" y="368.17" width="6.9" height="4.96" fill="#C3E4C4"/>
<rect x="6" y="372.94" width="6.9" height="3.38" fill="#F9E36A"/>
<rect x="6" y="376.11" width="6.9" height="1.26" fill="#E8171D"/>
<rect x="6" y="377.17" width="6.9" height="0.73" fill="#1B74B0"/>
<text x="27.48" y="384.60" font-size="8.5" text-anchor="end" transform="rotate(-45 27.48 384.60)">CK0h1</text>
<text x="41.05" y="384.60" font-size="8.5" text-anchor="end" transform="rotate(-45 41.05 384.60)">CK0h2</text>
<text x="54.62" y="384.60" font-size="8.5" text-anchor="end" transform="rotate(-45 54.62 384.60)">CK0h3</text>
<text x="68.18" y="384.60" font-size="8.5" text-anchor="end" transform="rotate(-45 68.18 384.60)">DON0h1</text>
<text x="81.75" y="384.60" font-size="8.5" text-anchor="end" transform="rotate(-45 81.75 384.60)">DON0h2</text>
<text x="95.32" y="384.60" font-size="8.5" text-anchor="end" transform="rotate(-45 95.32 384.60)">DON0h3</text>
<text x="108.88" y="384.60" font-size="8.5" text-anchor="end" transform="rotate(-45 108.88 384.60)">DON4h1</text>
<text x="122.45" y="384.60" font-size="8.5" text-anchor="end" transform="rotate(-45 122.45 384.60)">DON4h2</text>
<text x="136.02" y="384.60" font-size="8.5" text-anchor="end" transform="rotate(-45 136.02 384.60)">DON4h3</text>
<text x="149.58" y="384.60" font-size="8.5" text-anchor="end" transform="rotate(-45 149.58 384.60)">DON12h1</text>
<text x="163.15" y="384.60" font-size="8.5" text-anchor="end" transform="rotate(-45 163.15 384.60)">DON12h2</text>
<text x="176.72" y="384.60" font-size="8.5" text-anchor="end" transform="rotate(-45 176.72 384.60)">DON12h3</text>
<text x="190.28" y="384.60" font-size="8.5" text-anchor="end" transform="rotate(-45 190.28 384.60)">DON48h1</text>
<text x="203.85" y="384.60" font-size="8.5" text-anchor="end" transform="rotate(-45 203.85 384.60)">DON48h2</text>
<text x="217.42" y="384.60" font-size="8.5" text-anchor="end" transform="rotate(-45 217.42 384.60)">DON48h3</text>
<defs><linearGradient id="cb" x1="0" y1="0" x2="0" y2="1"><stop offset="0" stop-color="#EE1C24"/><stop offset="0.5" stop-color="#FFFFFF"/><stop offset="1" stop-color="#2BA936"/></linearGradient></defs>
<rect x="223.9" y="22.2" width="5.7" height="79.4" fill="url(#cb)"/>
<text x="223.20" y="19.10" font-size="10" text-anchor="start" >Metabolites level</text>
<text x="231.40" y="29.50" font-size="8.5" text-anchor="start" >4</text>
<text x="231.40" y="48.50" font-size="8.5" text-anchor="start" >2</text>
<text x="231.40" y="66.60" font-size="8.5" text-anchor="start" >0</text>
<text x="231.40" y="83.80" font-size="8.5" text-anchor="start" >−2</text>
<text x="231.40" y="102.30" font-size="8.5" text-anchor="start" >−4</text>
<text x="242.80" y="49.00" font-size="10" text-anchor="start" >Group</text>
<rect x="243" y="51.1" width="10.2" height="10" fill="#F8766D"/>
<text x="255.30" y="59.10" font-size="8.5" text-anchor="start" >CK1</text>
<rect x="243" y="61.1" width="10.2" height="10" fill="#A3A500"/>
<text x="255.30" y="69.10" font-size="8.5" text-anchor="start" >DON1</text>
<rect x="243" y="71.1" width="10.2" height="10" fill="#C77CC4"/>
<text x="255.30" y="79.10" font-size="8.5" text-anchor="start" >DON2</text>
<rect x="243" y="81.1" width="10.2" height="10" fill="#1DAE78"/>
<text x="255.30" y="89.10" font-size="8.5" text-anchor="start" >DON3</text>
<rect x="243" y="91.1" width="10.2" height="10" fill="#1EAEE6"/>
<text x="255.30" y="99.10" font-size="8.5" text-anchor="start" >DON4</text>
<text x="222.80" y="120.00" font-size="10" text-anchor="start" >Class</text>
<rect x="222.8" y="122.70" width="10.2" height="10.3" fill="#5BC4B8"/>
<text x="235.70" y="130.00" font-size="8.55" text-anchor="start" >Lipids</text>
<rect x="222.8" y="132.95" width="10.2" height="10.3" fill="#F9C6DA"/>
<text x="235.70" y="140.25" font-size="8.55" text-anchor="start" >Nucleotides and derivatives</text>
<rect x="222.8" y="143.20" width="10.2" height="10.3" fill="#B57DB8"/>
<text x="235.70" y="150.50" font-size="8.55" text-anchor="start" >Lignans and Coumarins</text>
<rect x="222.8" y="153.45" width="10.2" height="10.3" fill="#F47B6C"/>
<text x="235.70" y="160.75" font-size="8.55" text-anchor="start" >Amino acids and derivatives</text>
<rect x="222.8" y="163.70" width="10.2" height="10.3" fill="#F4EFA6"/>
<text x="235.70" y="171.00" font-size="8.55" text-anchor="start" >Phenolic acids</text>
<rect x="222.8" y="173.95" width="10.2" height="10.3" fill="#BBB5D8"/>
<text x="235.70" y="181.25" font-size="8.55" text-anchor="start" >Alkaloids</text>
<rect x="222.8" y="184.20" width="10.2" height="10.3" fill="#60A3CA"/>
<text x="235.70" y="191.50" font-size="8.55" text-anchor="start" >Flavonoids</text>
<rect x="222.8" y="194.45" width="10.2" height="10.3" fill="#F8A85C"/>
<text x="235.70" y="201.75" font-size="8.55" text-anchor="start" >Others</text>
<rect x="222.8" y="204.70" width="10.2" height="10.3" fill="#9BD069"/>
<text x="235.70" y="212.00" font-size="8.55" text-anchor="start" >Organic acids</text>
<rect x="222.8" y="214.95" width="10.2" height="10.3" fill="#C3E4C4"/>
<text x="235.70" y="222.25" font-size="8.55" text-anchor="start" >Terpenoids</text>
<rect x="222.8" y="225.20" width="10.2" height="10.3" fill="#F9E36A"/>
<text x="235.70" y="232.50" font-size="8.55" text-anchor="start" >Tannins</text>
<rect x="222.8" y="235.45" width="10.2" height="10.3" fill="#E8171D"/>
<text x="235.70" y="242.75" font-size="8.55" text-anchor="start" >Steroids</text>
<rect x="222.8" y="245.70" width="10.2" height="10.3" fill="#1B74B0"/>
<text x="235.70" y="253.00" font-size="8.55" text-anchor="start" >Quinones</text>
<text x="298.50" y="9.80" font-size="10" text-anchor="start" >B</text>
<line x1="367.70" y1="12.25" x2="367.70" y2="115.80" stroke="#F0F0F0" stroke-width="0.7"/>
<line x1="407.25" y1="12.25" x2="407.25" y2="115.80" stroke="#F0F0F0" stroke-width="0.7"/>
<line x1="446.80" y1="12.25" x2="446.80" y2="115.80" stroke="#F0F0F0" stroke-width="0.7"/>
<line x1="486.35" y1="12.25" x2="486.35" y2="115.80" stroke="#F0F0F0" stroke-width="0.7"/>
<line x1="525.90" y1="12.25" x2="525.90" y2="115.80" stroke="#F0F0F0" stroke-width="0.7"/>
<line x1="339.60" y1="19.50" x2="543.30" y2="19.50" stroke="#F0F0F0" stroke-width="0.7"/>
<line x1="339.60" y1="50.30" x2="543.30" y2="50.30" stroke="#F0F0F0" stroke-width="0.7"/>
<line x1="339.60" y1="81.10" x2="543.30" y2="81.10" stroke="#F0F0F0" stroke-width="0.7"/>
<line x1="339.60" y1="111.90" x2="543.30" y2="111.90" stroke="#F0F0F0" stroke-width="0.7"/>
<line x1="347.90" y1="12.25" x2="347.90" y2="115.80" stroke="#E8E8E8" stroke-width="1.3"/>
<line x1="387.45" y1="12.25" x2="387.45" y2="115.80" stroke="#E8E8E8" stroke-width="1.3"/>
<line x1="427.00" y1="12.25" x2="427.00" y2="115.80" stroke="#E8E8E8" stroke-width="1.3"/>
<line x1="466.55" y1="12.25" x2="466.55" y2="115.80" stroke="#E8E8E8" stroke-width="1.3"/>
<line x1="506.10" y1="12.25" x2="506.10" y2="115.80" stroke="#E8E8E8" stroke-width="1.3"/>
<line x1="339.60" y1="34.90" x2="543.30" y2="34.90" stroke="#E8E8E8" stroke-width="1.3"/>
<line x1="339.60" y1="65.70" x2="543.30" y2="65.70" stroke="#E8E8E8" stroke-width="1.3"/>
<line x1="339.60" y1="96.50" x2="543.30" y2="96.50" stroke="#E8E8E8" stroke-width="1.3"/>
<g opacity="0.24"><path d="M421.5 20.9 L432.7 23.5 L413.7 29.3Z" fill="#1DAE78" stroke="#1DAE78" stroke-width="9.0" stroke-linejoin="round"/></g>
<g opacity="0.24"><path d="M377.1 64.5 L398.5 61.3 L381.9 65.7Z" fill="#A3A500" stroke="#A3A500" stroke-width="6.0" stroke-linejoin="round"/></g>
<g opacity="0.24"><path d="M355.8 95.8 L367.8 96.9 L366.7 101.3Z" fill="#F8766D" stroke="#F8766D" stroke-width="8.4" stroke-linejoin="round"/></g>
<g opacity="0.24"><path d="M441.2 48.4 L456.7 64.8 L430.5 53.2Z" fill="#C77CC4" stroke="#C77CC4" stroke-width="10.0" stroke-linejoin="round"/></g>
<g opacity="0.24"><path d="M519.9 66.4 L529.1 89.3 L511.7 106.7Z" fill="#1EAEE6" stroke="#1EAEE6" stroke-width="10.0" stroke-linejoin="round"/></g>
<circle cx="421.5" cy="20.9" r="2.1" fill="#1DAE78"/>
<circle cx="432.7" cy="23.5" r="2.1" fill="#1DAE78"/>
<circle cx="413.7" cy="29.3" r="2.1" fill="#1DAE78"/>
<circle cx="377.1" cy="64.5" r="2.1" fill="#A3A500"/>
<circle cx="381.9" cy="65.7" r="2.1" fill="#A3A500"/>
<circle cx="398.5" cy="61.3" r="2.1" fill="#A3A500"/>
<circle cx="355.8" cy="95.8" r="2.1" fill="#F8766D"/>
<circle cx="367.8" cy="96.9" r="2.1" fill="#F8766D"/>
<circle cx="366.7" cy="101.3" r="2.1" fill="#F8766D"/>
<circle cx="441.2" cy="48.4" r="2.1" fill="#C060B8"/>
<circle cx="430.5" cy="53.2" r="2.1" fill="#C060B8"/>
<circle cx="456.7" cy="64.8" r="2.1" fill="#C060B8"/>
<circle cx="519.9" cy="66.4" r="2.1" fill="#1EAEE6"/>
<circle cx="529.1" cy="89.3" r="2.1" fill="#1EAEE6"/>
<circle cx="511.7" cy="106.7" r="2.1" fill="#1EAEE6"/>
<text x="401.00" y="19.30" font-size="5.5" text-anchor="start" style="stroke-width:0.05px">DON12h2</text>
<text x="432.40" y="29.20" font-size="5.5" text-anchor="start" style="stroke-width:0.05px">DON12h1</text>
<text x="393.00" y="34.00" font-size="5.5" text-anchor="start" style="stroke-width:0.05px">DON12h3</text>
<text x="357.70" y="62.90" font-size="5.5" text-anchor="start" style="stroke-width:0.05px">DON0h1</text>
<text x="380.00" y="72.40" font-size="5.5" text-anchor="start" style="stroke-width:0.05px">DON0h3</text>
<text x="385.40" y="58.50" font-size="5.5" text-anchor="start" style="stroke-width:0.05px">DON0h2</text>
<text x="341.60" y="92.40" font-size="5.5" text-anchor="start" style="stroke-width:0.05px">CK0h3</text>
<text x="366.70" y="94.50" font-size="5.5" text-anchor="start" style="stroke-width:0.05px">CK0h1</text>
<text x="348.70" y="107.10" font-size="5.5" text-anchor="start" style="stroke-width:0.05px">CK0h2</text>
<text x="443.60" y="46.90" font-size="5.5" text-anchor="start" style="stroke-width:0.05px">DON4h2</text>
<text x="411.60" y="60.00" font-size="5.5" text-anchor="start" style="stroke-width:0.05px">DON4h3</text>
<text x="437.80" y="71.50" font-size="5.5" text-anchor="start" style="stroke-width:0.05px">DON4h1</text>
<text x="493.90" y="65.10" font-size="5.5" text-anchor="start" style="stroke-width:0.05px">DON48h2</text>
<text x="520.50" y="96.00" font-size="5.5" text-anchor="start" style="stroke-width:0.05px">DON48h1</text>
<text x="485.70" y="110.70" font-size="5.5" text-anchor="start" style="stroke-width:0.05px">DON48h3</text>
<rect x="339.60" y="12.25" width="203.70" height="103.55" fill="none" stroke="#000" stroke-width="1.7"/>
<line x1="347.90" y1="115.80" x2="347.90" y2="117.80" stroke="#000" stroke-width="1"/>
<line x1="387.45" y1="115.80" x2="387.45" y2="117.80" stroke="#000" stroke-width="1"/>
<line x1="427.00" y1="115.80" x2="427.00" y2="117.80" stroke="#000" stroke-width="1"/>
<line x1="466.55" y1="115.80" x2="466.55" y2="117.80" stroke="#000" stroke-width="1"/>
<line x1="506.10" y1="115.80" x2="506.10" y2="117.80" stroke="#000" stroke-width="1"/>
<line x1="337.10" y1="34.90" x2="339.60" y2="34.90" stroke="#000" stroke-width="1"/>
<line x1="337.10" y1="65.70" x2="339.60" y2="65.70" stroke="#000" stroke-width="1"/>
<line x1="337.10" y1="96.50" x2="339.60" y2="96.50" stroke="#000" stroke-width="1"/>
<text x="349.10" y="126.00" font-size="8" text-anchor="middle" >−5.0×10<tspan font-size="4.5" dy="-3.2">7</tspan></text>
<text x="388.65" y="126.00" font-size="8" text-anchor="middle" >−2.5×10<tspan font-size="4.5" dy="-3.2">7</tspan></text>
<text x="428.20" y="126.00" font-size="8" text-anchor="middle" >0</text>
<text x="467.75" y="126.00" font-size="8" text-anchor="middle" >2.5×10<tspan font-size="4.5" dy="-3.2">7</tspan></text>
<text x="507.30" y="126.00" font-size="8" text-anchor="middle" >5.0×10<tspan font-size="4.5" dy="-3.2">7</tspan></text>
<text x="336.60" y="37.70" font-size="8" text-anchor="end" >2×10<tspan font-size="4.5" dy="-3.2">7</tspan></text>
<text x="336.60" y="68.50" font-size="8" text-anchor="end" >0</text>
<text x="336.60" y="99.30" font-size="8" text-anchor="end" >−2×10<tspan font-size="4.5" dy="-3.2">7</tspan></text>
<text x="431.40" y="138.00" font-size="10" text-anchor="middle" >PC1, 56% variation</text>
<text x="0" y="0" font-size="10" text-anchor="middle" transform="translate(310.3 59.6) rotate(-90)">PC2, 14.45% variation</text>
<text x="313.50" y="183.00" font-size="10" text-anchor="start" >C</text>
<path d="M404.30 277.20 L376.21 171.26 A109.60 109.60 0 0 1 483.65 201.60 Z" fill="#5BC4B8" stroke="#fff" stroke-width="1.8" stroke-linejoin="round"/>
<path d="M404.30 277.20 L483.65 201.60 A109.60 109.60 0 0 1 512.21 258.05 Z" fill="#9BD069" stroke="#fff" stroke-width="1.8" stroke-linejoin="round"/>
<path d="M404.30 277.20 L512.21 258.05 A109.60 109.60 0 0 1 510.68 303.55 Z" fill="#F9C6DA" stroke="#fff" stroke-width="1.8" stroke-linejoin="round"/>
<path d="M404.30 277.20 L510.68 303.55 A109.60 109.60 0 0 1 506.37 317.13 Z" fill="#B57DB8" stroke="#fff" stroke-width="1.8" stroke-linejoin="round"/>
<path d="M404.30 277.20 L506.37 317.13 A109.60 109.60 0 0 1 502.68 325.51 Z" fill="#C3E4C4" stroke="#fff" stroke-width="1.8" stroke-linejoin="round"/>
<path d="M404.30 277.20 L502.68 325.51 A109.60 109.60 0 0 1 499.82 330.93 Z" fill="#F9E36A" stroke="#fff" stroke-width="1.8" stroke-linejoin="round"/>
<path d="M404.30 277.20 L499.82 330.93 A109.60 109.60 0 0 1 498.79 332.72 Z" fill="#E8171D" stroke="#fff" stroke-width="1.8" stroke-linejoin="round"/>
<path d="M404.30 277.20 L498.79 332.72 A109.60 109.60 0 0 1 498.27 333.61 Z" fill="#1B74B0" stroke="#fff" stroke-width="1.8" stroke-linejoin="round"/>
<path d="M404.30 277.20 L498.27 333.61 A109.60 109.60 0 0 1 416.36 386.13 Z" fill="#F4EFA6" stroke="#fff" stroke-width="1.8" stroke-linejoin="round"/>
<path d="M404.30 277.20 L416.36 386.13 A109.60 109.60 0 0 1 336.99 363.70 Z" fill="#BBB5D8" stroke="#fff" stroke-width="1.8" stroke-linejoin="round"/>
<path d="M404.30 277.20 L336.99 363.70 A109.60 109.60 0 0 1 295.89 293.29 Z" fill="#F47B6C" stroke="#fff" stroke-width="1.8" stroke-linejoin="round"/>
<path d="M404.30 277.20 L295.89 293.29 A109.60 109.60 0 0 1 314.77 213.98 Z" fill="#60A3CA" stroke="#fff" stroke-width="1.8" stroke-linejoin="round"/>
<path d="M404.30 277.20 L314.77 213.98 A109.60 109.60 0 0 1 376.21 171.26 Z" fill="#F8A85C" stroke="#fff" stroke-width="1.8" stroke-linejoin="round"/>
<text x="382.10" y="183.50" font-size="8.55" text-anchor="start" >Lipids</text>
<text x="382.10" y="193.80" font-size="8.55" text-anchor="start" >17.01%, 115</text>
<text x="328.00" y="204.60" font-size="8.55" text-anchor="start" >Others</text>
<text x="328.00" y="214.60" font-size="8.55" text-anchor="start" >11.09%, 75</text>
<text x="456.40" y="237.60" font-size="8.55" text-anchor="start" >Organic acids</text>
<text x="456.40" y="247.00" font-size="8.55" text-anchor="start" >9.32%, 63</text>
<text x="513.00" y="281.00" font-size="8.55" text-anchor="end" >Nucleotides and derivatives</text>
<text x="513.00" y="291.00" font-size="8.55" text-anchor="end" >6.66%, 45</text>
<text x="545.10" y="180.30" font-size="8.55" text-anchor="end" >Lignans and Coumarins</text>
<text x="545.10" y="190.10" font-size="8.55" text-anchor="end" >2.07%, 14</text>
<text x="301.70" y="261.80" font-size="8.55" text-anchor="start" >Flavonoids</text>
<text x="301.70" y="272.40" font-size="8.55" text-anchor="start" >12.13%, 82</text>
<text x="298.40" y="298.90" font-size="8.55" text-anchor="start" >Amino acids and derivatives</text>
<text x="298.40" y="309.30" font-size="8.55" text-anchor="start" >12.13%, 82</text>
<text x="359.80" y="351.60" font-size="8.55" text-anchor="start" >Alkaloids</text>
<text x="359.80" y="361.90" font-size="8.55" text-anchor="start" >12.28%, 83</text>
<text x="415.00" y="329.20" font-size="8.55" text-anchor="start" >Phenolic acids</text>
<text x="415.00" y="339.60" font-size="8.55" text-anchor="start" >14.64%, 99</text>
<text x="451.6" y="382.0" font-size="8.5" xml:space="preserve">Quinones  0.15%, 1</text>
<text x="462.5" y="391.1" font-size="8.5" xml:space="preserve">Steroids  0.30%, 2</text>
<text x="471.6" y="399.3" font-size="8.5" xml:space="preserve">Tannins  0.89%, 6</text>
<text x="467.0" y="409.6" font-size="8.5" xml:space="preserve">Terpenoids  1.33%, 9</text>
<polyline points="522.2,192.5 517,300.4 511,304" fill="none" stroke="#E9B8E6" stroke-width="0.7"/>
<polyline points="498.2,332.4 517.9,377.9" fill="none" stroke="#5FA8E0" stroke-width="0.7"/>
<polyline points="499.7,331 525.5,387" fill="none" stroke="#F07F86" stroke-width="0.7"/>
<polyline points="501,329 531.5,394.5" fill="none" stroke="#F5DE7A" stroke-width="0.7"/>
<polyline points="505.8,320.3 539,405" fill="none" stroke="#CDE8CF" stroke-width="0.7"/>
</svg>
</body></html>
